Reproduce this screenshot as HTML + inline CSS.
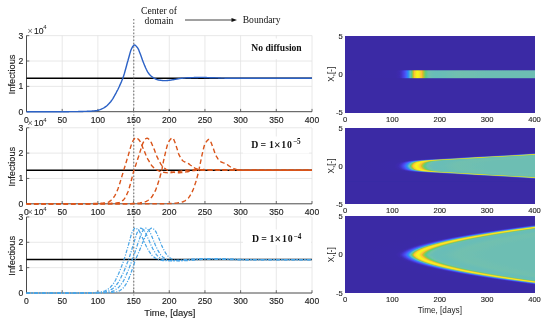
<!DOCTYPE html>
<html><head><meta charset="utf-8"><title>Figure</title>
<style>html,body{margin:0;padding:0;background:#fff}svg{display:block}</style></head>
<body><svg width="550" height="324" viewBox="0 0 550 324">
<rect width="550" height="324" fill="#fff"/>
<line x1="62.19" y1="35.5" x2="62.19" y2="111.7" stroke="#e2e2e2" stroke-width="0.8"/><line x1="97.88" y1="35.5" x2="97.88" y2="111.7" stroke="#e2e2e2" stroke-width="0.8"/><line x1="133.56" y1="35.5" x2="133.56" y2="111.7" stroke="#e2e2e2" stroke-width="0.8"/><line x1="169.25" y1="35.5" x2="169.25" y2="111.7" stroke="#e2e2e2" stroke-width="0.8"/><line x1="204.94" y1="35.5" x2="204.94" y2="111.7" stroke="#e2e2e2" stroke-width="0.8"/><line x1="240.62" y1="35.5" x2="240.62" y2="111.7" stroke="#e2e2e2" stroke-width="0.8"/><line x1="276.31" y1="35.5" x2="276.31" y2="111.7" stroke="#e2e2e2" stroke-width="0.8"/><line x1="312.00" y1="35.5" x2="312.00" y2="111.7" stroke="#e2e2e2" stroke-width="0.8"/><line x1="26.5" y1="86.35" x2="312.0" y2="86.35" stroke="#e2e2e2" stroke-width="0.8"/><line x1="26.5" y1="61.00" x2="312.0" y2="61.00" stroke="#e2e2e2" stroke-width="0.8"/><line x1="26.5" y1="35.65" x2="312.0" y2="35.65" stroke="#e2e2e2" stroke-width="0.8"/>
<line x1="62.19" y1="128.0" x2="62.19" y2="203.8" stroke="#e2e2e2" stroke-width="0.8"/><line x1="97.88" y1="128.0" x2="97.88" y2="203.8" stroke="#e2e2e2" stroke-width="0.8"/><line x1="133.56" y1="128.0" x2="133.56" y2="203.8" stroke="#e2e2e2" stroke-width="0.8"/><line x1="169.25" y1="128.0" x2="169.25" y2="203.8" stroke="#e2e2e2" stroke-width="0.8"/><line x1="204.94" y1="128.0" x2="204.94" y2="203.8" stroke="#e2e2e2" stroke-width="0.8"/><line x1="240.62" y1="128.0" x2="240.62" y2="203.8" stroke="#e2e2e2" stroke-width="0.8"/><line x1="276.31" y1="128.0" x2="276.31" y2="203.8" stroke="#e2e2e2" stroke-width="0.8"/><line x1="312.00" y1="128.0" x2="312.00" y2="203.8" stroke="#e2e2e2" stroke-width="0.8"/><line x1="26.5" y1="178.45" x2="312.0" y2="178.45" stroke="#e2e2e2" stroke-width="0.8"/><line x1="26.5" y1="153.10" x2="312.0" y2="153.10" stroke="#e2e2e2" stroke-width="0.8"/><line x1="26.5" y1="127.75" x2="312.0" y2="127.75" stroke="#e2e2e2" stroke-width="0.8"/>
<line x1="62.19" y1="217.0" x2="62.19" y2="293.0" stroke="#e2e2e2" stroke-width="0.8"/><line x1="97.88" y1="217.0" x2="97.88" y2="293.0" stroke="#e2e2e2" stroke-width="0.8"/><line x1="133.56" y1="217.0" x2="133.56" y2="293.0" stroke="#e2e2e2" stroke-width="0.8"/><line x1="169.25" y1="217.0" x2="169.25" y2="293.0" stroke="#e2e2e2" stroke-width="0.8"/><line x1="204.94" y1="217.0" x2="204.94" y2="293.0" stroke="#e2e2e2" stroke-width="0.8"/><line x1="240.62" y1="217.0" x2="240.62" y2="293.0" stroke="#e2e2e2" stroke-width="0.8"/><line x1="276.31" y1="217.0" x2="276.31" y2="293.0" stroke="#e2e2e2" stroke-width="0.8"/><line x1="312.00" y1="217.0" x2="312.00" y2="293.0" stroke="#e2e2e2" stroke-width="0.8"/><line x1="26.5" y1="267.65" x2="312.0" y2="267.65" stroke="#e2e2e2" stroke-width="0.8"/><line x1="26.5" y1="242.30" x2="312.0" y2="242.30" stroke="#e2e2e2" stroke-width="0.8"/><line x1="26.5" y1="216.95" x2="312.0" y2="216.95" stroke="#e2e2e2" stroke-width="0.8"/>
<rect x="243" y="38.5" width="66" height="20.5" fill="#fff"/>
<rect x="243" y="136.5" width="66" height="17" fill="#fff"/>
<rect x="243" y="229.5" width="68" height="15.5" fill="#fff"/>
<path d="M26.5,35.5 V111.7 H312.0" fill="none" stroke="#4a4a4a" stroke-width="1"/><line x1="26.50" y1="111.7" x2="26.50" y2="108.9" stroke="#4a4a4a" stroke-width="0.8"/><line x1="62.19" y1="111.7" x2="62.19" y2="108.9" stroke="#4a4a4a" stroke-width="0.8"/><line x1="97.88" y1="111.7" x2="97.88" y2="108.9" stroke="#4a4a4a" stroke-width="0.8"/><line x1="133.56" y1="111.7" x2="133.56" y2="108.9" stroke="#4a4a4a" stroke-width="0.8"/><line x1="169.25" y1="111.7" x2="169.25" y2="108.9" stroke="#4a4a4a" stroke-width="0.8"/><line x1="204.94" y1="111.7" x2="204.94" y2="108.9" stroke="#4a4a4a" stroke-width="0.8"/><line x1="240.62" y1="111.7" x2="240.62" y2="108.9" stroke="#4a4a4a" stroke-width="0.8"/><line x1="276.31" y1="111.7" x2="276.31" y2="108.9" stroke="#4a4a4a" stroke-width="0.8"/><line x1="312.00" y1="111.7" x2="312.00" y2="108.9" stroke="#4a4a4a" stroke-width="0.8"/><line x1="26.5" y1="111.70" x2="29.3" y2="111.70" stroke="#4a4a4a" stroke-width="0.8"/><line x1="26.5" y1="86.35" x2="29.3" y2="86.35" stroke="#4a4a4a" stroke-width="0.8"/><line x1="26.5" y1="61.00" x2="29.3" y2="61.00" stroke="#4a4a4a" stroke-width="0.8"/><line x1="26.5" y1="35.65" x2="29.3" y2="35.65" stroke="#4a4a4a" stroke-width="0.8"/>
<line x1="26.5" y1="78.24" x2="312.0" y2="78.24" stroke="#000" stroke-width="1.5"/>
<path d="M26.5,128.0 V203.8 H312.0" fill="none" stroke="#4a4a4a" stroke-width="1"/><line x1="26.50" y1="203.8" x2="26.50" y2="201.0" stroke="#4a4a4a" stroke-width="0.8"/><line x1="62.19" y1="203.8" x2="62.19" y2="201.0" stroke="#4a4a4a" stroke-width="0.8"/><line x1="97.88" y1="203.8" x2="97.88" y2="201.0" stroke="#4a4a4a" stroke-width="0.8"/><line x1="133.56" y1="203.8" x2="133.56" y2="201.0" stroke="#4a4a4a" stroke-width="0.8"/><line x1="169.25" y1="203.8" x2="169.25" y2="201.0" stroke="#4a4a4a" stroke-width="0.8"/><line x1="204.94" y1="203.8" x2="204.94" y2="201.0" stroke="#4a4a4a" stroke-width="0.8"/><line x1="240.62" y1="203.8" x2="240.62" y2="201.0" stroke="#4a4a4a" stroke-width="0.8"/><line x1="276.31" y1="203.8" x2="276.31" y2="201.0" stroke="#4a4a4a" stroke-width="0.8"/><line x1="312.00" y1="203.8" x2="312.00" y2="201.0" stroke="#4a4a4a" stroke-width="0.8"/><line x1="26.5" y1="203.80" x2="29.3" y2="203.80" stroke="#4a4a4a" stroke-width="0.8"/><line x1="26.5" y1="178.45" x2="29.3" y2="178.45" stroke="#4a4a4a" stroke-width="0.8"/><line x1="26.5" y1="153.10" x2="29.3" y2="153.10" stroke="#4a4a4a" stroke-width="0.8"/><line x1="26.5" y1="127.75" x2="29.3" y2="127.75" stroke="#4a4a4a" stroke-width="0.8"/>
<line x1="26.5" y1="170.34" x2="312.0" y2="170.34" stroke="#000" stroke-width="1.5"/>
<path d="M26.5,217.0 V293.0 H312.0" fill="none" stroke="#4a4a4a" stroke-width="1"/><line x1="26.50" y1="293.0" x2="26.50" y2="290.2" stroke="#4a4a4a" stroke-width="0.8"/><line x1="62.19" y1="293.0" x2="62.19" y2="290.2" stroke="#4a4a4a" stroke-width="0.8"/><line x1="97.88" y1="293.0" x2="97.88" y2="290.2" stroke="#4a4a4a" stroke-width="0.8"/><line x1="133.56" y1="293.0" x2="133.56" y2="290.2" stroke="#4a4a4a" stroke-width="0.8"/><line x1="169.25" y1="293.0" x2="169.25" y2="290.2" stroke="#4a4a4a" stroke-width="0.8"/><line x1="204.94" y1="293.0" x2="204.94" y2="290.2" stroke="#4a4a4a" stroke-width="0.8"/><line x1="240.62" y1="293.0" x2="240.62" y2="290.2" stroke="#4a4a4a" stroke-width="0.8"/><line x1="276.31" y1="293.0" x2="276.31" y2="290.2" stroke="#4a4a4a" stroke-width="0.8"/><line x1="312.00" y1="293.0" x2="312.00" y2="290.2" stroke="#4a4a4a" stroke-width="0.8"/><line x1="26.5" y1="293.00" x2="29.3" y2="293.00" stroke="#4a4a4a" stroke-width="0.8"/><line x1="26.5" y1="267.65" x2="29.3" y2="267.65" stroke="#4a4a4a" stroke-width="0.8"/><line x1="26.5" y1="242.30" x2="29.3" y2="242.30" stroke="#4a4a4a" stroke-width="0.8"/><line x1="26.5" y1="216.95" x2="29.3" y2="216.95" stroke="#4a4a4a" stroke-width="0.8"/>
<line x1="26.5" y1="259.54" x2="312.0" y2="259.54" stroke="#000" stroke-width="1.5"/>
<line x1="133.76" y1="19" x2="133.76" y2="295.5" stroke="#787878" stroke-width="1.15" stroke-dasharray="1.6 1.8"/>
<path d="M26.5,111.7 L27.2,111.7 L27.9,111.7 L28.6,111.7 L29.4,111.7 L30.1,111.7 L30.8,111.7 L31.5,111.7 L32.2,111.7 L32.9,111.7 L33.6,111.7 L34.4,111.7 L35.1,111.7 L35.8,111.7 L36.5,111.7 L37.2,111.7 L37.9,111.7 L38.6,111.7 L39.3,111.7 L40.1,111.7 L40.8,111.7 L41.5,111.7 L42.2,111.7 L42.9,111.7 L43.6,111.7 L44.3,111.7 L45.1,111.7 L45.8,111.7 L46.5,111.7 L47.2,111.7 L47.9,111.7 L48.6,111.7 L49.3,111.7 L50.1,111.7 L50.8,111.7 L51.5,111.7 L52.2,111.7 L52.9,111.7 L53.6,111.7 L54.3,111.7 L55.0,111.7 L55.8,111.7 L56.5,111.7 L57.2,111.7 L57.9,111.7 L58.6,111.7 L59.3,111.7 L60.0,111.7 L60.8,111.7 L61.5,111.7 L62.2,111.7 L62.9,111.7 L63.6,111.7 L64.3,111.7 L65.0,111.7 L65.8,111.7 L66.5,111.7 L67.2,111.7 L67.9,111.7 L68.6,111.7 L69.3,111.6 L70.0,111.6 L70.8,111.6 L71.5,111.6 L72.2,111.6 L72.9,111.6 L73.6,111.6 L74.3,111.6 L75.0,111.6 L75.7,111.6 L76.5,111.6 L77.2,111.6 L77.9,111.6 L78.6,111.5 L79.3,111.5 L80.0,111.5 L80.7,111.5 L81.5,111.5 L82.2,111.5 L82.9,111.5 L83.6,111.4 L84.3,111.4 L85.0,111.4 L85.7,111.4 L86.5,111.4 L87.2,111.3 L87.9,111.3 L88.6,111.3 L89.3,111.2 L90.0,111.2 L90.7,111.2 L91.5,111.1 L92.2,111.0 L92.9,111.0 L93.6,110.9 L94.3,110.9 L95.0,110.8 L95.7,110.7 L96.4,110.6 L97.2,110.5 L97.9,110.3 L98.6,110.2 L99.3,109.9 L100.0,109.7 L100.7,109.4 L101.4,109.1 L102.2,108.7 L102.9,108.4 L103.6,108.0 L104.3,107.6 L105.0,107.1 L105.7,106.6 L106.4,106.1 L107.2,105.5 L107.9,104.8 L108.6,104.1 L109.3,103.3 L110.0,102.5 L110.7,101.7 L111.4,100.8 L112.2,99.7 L112.9,98.6 L113.6,97.4 L114.3,96.2 L115.0,94.9 L115.7,93.6 L116.4,92.3 L117.1,90.9 L117.9,89.5 L118.6,88.0 L119.3,86.5 L120.0,84.9 L120.7,83.4 L121.4,81.8 L122.1,80.0 L122.9,78.2 L123.6,76.0 L124.3,73.7 L125.0,71.2 L125.7,68.7 L126.4,66.2 L127.1,63.5 L127.9,60.8 L128.6,58.2 L129.3,55.7 L130.0,53.1 L130.7,50.8 L131.4,49.0 L132.1,47.6 L132.8,46.4 L133.6,45.5 L134.3,45.0 L135.0,45.2 L135.7,45.6 L136.4,46.4 L137.1,47.2 L137.8,48.2 L138.6,49.6 L139.3,51.4 L140.0,53.3 L140.7,55.1 L141.4,57.0 L142.1,59.0 L142.8,61.1 L143.6,63.1 L144.3,64.8 L145.0,66.4 L145.7,68.0 L146.4,69.5 L147.1,70.9 L147.8,72.1 L148.6,73.3 L149.3,74.2 L150.0,75.0 L150.7,75.7 L151.4,76.3 L152.1,76.9 L152.8,77.4 L153.5,77.9 L154.3,78.3 L155.0,78.7 L155.7,79.0 L156.4,79.3 L157.1,79.6 L157.8,79.9 L158.5,80.0 L159.3,80.1 L160.0,80.2 L160.7,80.3 L161.4,80.4 L162.1,80.5 L162.8,80.6 L163.5,80.6 L164.3,80.6 L165.0,80.6 L165.7,80.6 L166.4,80.6 L167.1,80.5 L167.8,80.5 L168.5,80.4 L169.2,80.3 L170.0,80.2 L170.7,80.1 L171.4,80.0 L172.1,79.9 L172.8,79.8 L173.5,79.7 L174.2,79.5 L175.0,79.4 L175.7,79.3 L176.4,79.1 L177.1,79.0 L177.8,78.9 L178.5,78.7 L179.2,78.6 L180.0,78.5 L180.7,78.4 L181.4,78.3 L182.1,78.3 L182.8,78.2 L183.5,78.1 L184.2,78.1 L185.0,78.0 L185.7,77.9 L186.4,77.9 L187.1,77.8 L187.8,77.8 L188.5,77.8 L189.2,77.7 L189.9,77.7 L190.7,77.7 L191.4,77.6 L192.1,77.6 L192.8,77.6 L193.5,77.6 L194.2,77.5 L194.9,77.5 L195.7,77.5 L196.4,77.5 L197.1,77.5 L197.8,77.5 L198.5,77.4 L199.2,77.4 L199.9,77.4 L200.7,77.4 L201.4,77.4 L202.1,77.4 L202.8,77.4 L203.5,77.4 L204.2,77.5 L204.9,77.5 L205.7,77.5 L206.4,77.5 L207.1,77.6 L207.8,77.6 L208.5,77.6 L209.2,77.6 L209.9,77.7 L210.6,77.7 L211.4,77.7 L212.1,77.7 L212.8,77.8 L213.5,77.8 L214.2,77.8 L214.9,77.8 L215.6,77.9 L216.4,77.9 L217.1,77.9 L217.8,77.9 L218.5,78.0 L219.2,78.0 L219.9,78.0 L220.6,78.0 L221.4,78.1 L222.1,78.1 L222.8,78.1 L223.5,78.1 L224.2,78.1 L224.9,78.2 L225.6,78.2 L226.3,78.2 L227.1,78.2 L227.8,78.2 L228.5,78.2 L229.2,78.2 L229.9,78.2 L230.6,78.2 L231.3,78.2 L232.1,78.2 L232.8,78.2 L233.5,78.2 L234.2,78.2 L234.9,78.2 L235.6,78.2 L236.3,78.2 L237.1,78.2 L237.8,78.2 L238.5,78.2 L239.2,78.2 L239.9,78.2 L240.6,78.2 L241.3,78.2 L242.1,78.2 L242.8,78.2 L243.5,78.2 L244.2,78.2 L244.9,78.2 L245.6,78.2 L246.3,78.2 L247.0,78.2 L247.8,78.2 L248.5,78.2 L249.2,78.2 L249.9,78.2 L250.6,78.2 L251.3,78.2 L252.0,78.2 L252.8,78.2 L253.5,78.2 L254.2,78.2 L254.9,78.2 L255.6,78.2 L256.3,78.2 L257.0,78.2 L257.8,78.2 L258.5,78.2 L259.2,78.2 L259.9,78.2 L260.6,78.2 L261.3,78.2 L262.0,78.2 L262.8,78.2 L263.5,78.2 L264.2,78.2 L264.9,78.2 L265.6,78.2 L266.3,78.2 L267.0,78.2 L267.7,78.2 L268.5,78.2 L269.2,78.2 L269.9,78.2 L270.6,78.2 L271.3,78.2 L272.0,78.2 L272.7,78.2 L273.5,78.2 L274.2,78.2 L274.9,78.2 L275.6,78.2 L276.3,78.2 L277.0,78.2 L277.7,78.2 L278.5,78.2 L279.2,78.2 L279.9,78.2 L280.6,78.2 L281.3,78.2 L282.0,78.2 L282.7,78.2 L283.4,78.2 L284.2,78.2 L284.9,78.2 L285.6,78.2 L286.3,78.2 L287.0,78.2 L287.7,78.2 L288.4,78.2 L289.2,78.2 L289.9,78.2 L290.6,78.2 L291.3,78.2 L292.0,78.2 L292.7,78.2 L293.4,78.2 L294.2,78.2 L294.9,78.2 L295.6,78.2 L296.3,78.2 L297.0,78.2 L297.7,78.2 L298.4,78.2 L299.2,78.2 L299.9,78.2 L300.6,78.2 L301.3,78.2 L302.0,78.2 L302.7,78.2 L303.4,78.2 L304.1,78.2 L304.9,78.2 L305.6,78.2 L306.3,78.2 L307.0,78.2 L307.7,78.2 L308.4,78.2 L309.1,78.2 L309.9,78.2 L310.6,78.2 L311.3,78.2 L312.0,78.2" fill="none" stroke="#2c62c6" stroke-width="1.4" stroke-linejoin="round"/>
<path d="M26.5,203.8 L27.2,203.8 L27.9,203.8 L28.6,203.8 L29.4,203.8 L30.1,203.8 L30.8,203.8 L31.5,203.8 L32.2,203.8 L32.9,203.8 L33.6,203.8 L34.4,203.8 L35.1,203.8 L35.8,203.8 L36.5,203.8 L37.2,203.8 L37.9,203.8 L38.6,203.8 L39.3,203.8 L40.1,203.8 L40.8,203.8 L41.5,203.8 L42.2,203.8 L42.9,203.8 L43.6,203.8 L44.3,203.8 L45.1,203.8 L45.8,203.8 L46.5,203.8 L47.2,203.8 L47.9,203.8 L48.6,203.8 L49.3,203.8 L50.1,203.8 L50.8,203.8 L51.5,203.8 L52.2,203.8 L52.9,203.8 L53.6,203.8 L54.3,203.8 L55.0,203.8 L55.8,203.8 L56.5,203.8 L57.2,203.8 L57.9,203.8 L58.6,203.8 L59.3,203.8 L60.0,203.8 L60.8,203.8 L61.5,203.8 L62.2,203.8 L62.9,203.8 L63.6,203.8 L64.3,203.8 L65.0,203.8 L65.8,203.8 L66.5,203.8 L67.2,203.8 L67.9,203.8 L68.6,203.8 L69.3,203.8 L70.0,203.8 L70.8,203.8 L71.5,203.8 L72.2,203.8 L72.9,203.8 L73.6,203.8 L74.3,203.8 L75.0,203.8 L75.7,203.8 L76.5,203.8 L77.2,203.8 L77.9,203.8 L78.6,203.8 L79.3,203.7 L80.0,203.7 L80.7,203.7 L81.5,203.7 L82.2,203.7 L82.9,203.7 L83.6,203.7 L84.3,203.7 L85.0,203.7 L85.7,203.7 L86.5,203.7 L87.2,203.7 L87.9,203.7 L88.6,203.6 L89.3,203.6 L90.0,203.6 L90.7,203.6 L91.5,203.6 L92.2,203.6 L92.9,203.6 L93.6,203.5 L94.3,203.5 L95.0,203.5 L95.7,203.5 L96.4,203.5 L97.2,203.4 L97.9,203.4 L98.6,203.4 L99.3,203.3 L100.0,203.3 L100.7,203.3 L101.4,203.2 L102.2,203.1 L102.9,203.1 L103.6,203.0 L104.3,203.0 L105.0,202.9 L105.7,202.8 L106.4,202.7 L107.2,202.6 L107.9,202.4 L108.6,202.1 L109.3,201.6 L110.0,201.1 L110.7,200.6 L111.4,200.0 L112.2,199.3 L112.9,198.5 L113.6,197.6 L114.3,196.5 L115.0,195.3 L115.7,194.0 L116.4,192.6 L117.1,190.9 L117.9,189.0 L118.6,187.0 L119.3,184.9 L120.0,182.7 L120.7,180.4 L121.4,178.0 L122.1,175.6 L122.9,173.0 L123.6,170.3 L124.3,168.3 L125.0,166.1 L125.7,163.8 L126.4,161.5 L127.1,159.1 L127.9,156.7 L128.6,154.1 L129.3,151.7 L130.0,149.3 L130.7,146.9 L131.4,144.6 L132.1,142.6 L132.8,141.1 L133.6,139.9 L134.3,138.8 L135.0,138.0 L135.7,137.6 L136.4,137.8 L137.1,138.2 L137.8,138.8 L138.6,139.5 L139.3,140.3 L140.0,141.3 L140.7,142.7 L141.4,144.3 L142.1,146.0 L142.8,147.6 L143.6,149.2 L144.3,151.0 L145.0,152.8 L145.7,154.6 L146.4,156.2 L147.1,157.7 L147.8,159.1 L148.6,160.4 L149.3,161.7 L150.0,163.0 L150.7,164.1 L151.4,165.1 L152.1,166.0 L152.8,166.7 L153.5,167.4 L154.3,168.0 L155.0,168.5 L155.7,169.0 L156.4,169.5 L157.1,169.9 L157.8,170.3 L158.5,170.6 L159.3,171.0 L160.0,171.4 L160.7,171.6 L161.4,171.9 L162.1,172.1 L162.8,172.2 L163.5,172.3 L164.3,172.4 L165.0,172.5 L165.7,172.6 L166.4,172.6 L167.1,172.7 L167.8,172.7 L168.5,172.7 L169.2,172.7 L170.0,172.7 L170.7,172.7 L171.4,172.6 L172.1,172.5 L172.8,172.4 L173.5,172.3 L174.2,172.2 L175.0,172.1 L175.7,172.0 L176.4,171.9 L177.1,171.8 L177.8,171.7 L178.5,171.5 L179.2,171.4 L180.0,171.3 L180.7,171.1 L181.4,171.0 L182.1,170.9 L182.8,170.8 L183.5,170.7 L184.2,170.6 L185.0,170.5 L185.7,170.4 L186.4,170.3 L187.1,170.2 L187.8,170.2 L188.5,170.1 L189.2,170.1 L189.9,170.0 L190.7,170.0 L191.4,169.9 L192.1,169.9 L192.8,169.8 L193.5,169.8 L194.2,169.8 L194.9,169.7 L195.7,169.7 L196.4,169.7 L197.1,169.7 L197.8,169.7 L198.5,169.6 L199.2,169.6 L199.9,169.6 L200.7,169.6 L201.4,169.6 L202.1,169.6 L202.8,169.6 L203.5,169.5 L204.2,169.5 L204.9,169.5 L205.7,169.5 L206.4,169.5 L207.1,169.6 L207.8,169.6 L208.5,169.6 L209.2,169.6 L209.9,169.6 L210.6,169.7 L211.4,169.7 L212.1,169.7 L212.8,169.7 L213.5,169.8 L214.2,169.8 L214.9,169.8 L215.6,169.8 L216.4,169.9 L217.1,169.9 L217.8,169.9 L218.5,169.9 L219.2,170.0 L219.9,170.0 L220.6,170.0 L221.4,170.0 L222.1,170.1 L222.8,170.1 L223.5,170.1 L224.2,170.1 L224.9,170.2 L225.6,170.2 L226.3,170.2 L227.1,170.2 L227.8,170.2 L228.5,170.3 L229.2,170.3 L229.9,170.3 L230.6,170.3 L231.3,170.3 L232.1,170.3 L232.8,170.3 L233.5,170.3 L234.2,170.3 L234.9,170.3 L235.6,170.3 L236.3,170.3 L237.1,170.3 L237.8,170.3 L238.5,170.3 L239.2,170.3 L239.9,170.3 L240.6,170.3 L241.3,170.3 L242.1,170.3 L242.8,170.3 L243.5,170.3 L244.2,170.3 L244.9,170.3 L245.6,170.3 L246.3,170.3 L247.0,170.3 L247.8,170.3 L248.5,170.3 L249.2,170.3 L249.9,170.3 L250.6,170.3 L251.3,170.3 L252.0,170.3 L252.8,170.3 L253.5,170.3 L254.2,170.3 L254.9,170.3 L255.6,170.3 L256.3,170.3 L257.0,170.3 L257.8,170.3 L258.5,170.3 L259.2,170.3 L259.9,170.3 L260.6,170.3 L261.3,170.3 L262.0,170.3 L262.8,170.3 L263.5,170.3 L264.2,170.3 L264.9,170.3 L265.6,170.3 L266.3,170.3 L267.0,170.3 L267.7,170.3 L268.5,170.3 L269.2,170.3 L269.9,170.3 L270.6,170.3 L271.3,170.3 L272.0,170.3 L272.7,170.3 L273.5,170.3 L274.2,170.3 L274.9,170.3 L275.6,170.3 L276.3,170.3 L277.0,170.3 L277.7,170.3 L278.5,170.3 L279.2,170.3 L279.9,170.3 L280.6,170.3 L281.3,170.3 L282.0,170.3 L282.7,170.3 L283.4,170.3 L284.2,170.3 L284.9,170.3 L285.6,170.3 L286.3,170.3 L287.0,170.3 L287.7,170.3 L288.4,170.3 L289.2,170.3 L289.9,170.3 L290.6,170.3 L291.3,170.3 L292.0,170.3 L292.7,170.3 L293.4,170.3 L294.2,170.3 L294.9,170.3 L295.6,170.3 L296.3,170.3 L297.0,170.3 L297.7,170.3 L298.4,170.3 L299.2,170.3 L299.9,170.3 L300.6,170.3 L301.3,170.3 L302.0,170.3 L302.7,170.3 L303.4,170.3 L304.1,170.3 L304.9,170.3 L305.6,170.3 L306.3,170.3 L307.0,170.3 L307.7,170.3 L308.4,170.3 L309.1,170.3 L309.9,170.3 L310.6,170.3 L311.3,170.3 L312.0,170.3" fill="none" stroke="#d9541a" stroke-width="1.4" stroke-dasharray="4.6 2.8"/>
<path d="M26.5,203.8 L27.2,203.8 L27.9,203.8 L28.6,203.8 L29.4,203.8 L30.1,203.8 L30.8,203.8 L31.5,203.8 L32.2,203.8 L32.9,203.8 L33.6,203.8 L34.4,203.8 L35.1,203.8 L35.8,203.8 L36.5,203.8 L37.2,203.8 L37.9,203.8 L38.6,203.8 L39.3,203.8 L40.1,203.8 L40.8,203.8 L41.5,203.8 L42.2,203.8 L42.9,203.8 L43.6,203.8 L44.3,203.8 L45.1,203.8 L45.8,203.8 L46.5,203.8 L47.2,203.8 L47.9,203.8 L48.6,203.8 L49.3,203.8 L50.1,203.8 L50.8,203.8 L51.5,203.8 L52.2,203.8 L52.9,203.8 L53.6,203.8 L54.3,203.8 L55.0,203.8 L55.8,203.8 L56.5,203.8 L57.2,203.8 L57.9,203.8 L58.6,203.8 L59.3,203.8 L60.0,203.8 L60.8,203.8 L61.5,203.8 L62.2,203.8 L62.9,203.8 L63.6,203.8 L64.3,203.8 L65.0,203.8 L65.8,203.8 L66.5,203.8 L67.2,203.8 L67.9,203.8 L68.6,203.8 L69.3,203.8 L70.0,203.8 L70.8,203.8 L71.5,203.8 L72.2,203.8 L72.9,203.8 L73.6,203.8 L74.3,203.8 L75.0,203.8 L75.7,203.8 L76.5,203.8 L77.2,203.8 L77.9,203.8 L78.6,203.8 L79.3,203.8 L80.0,203.8 L80.7,203.8 L81.5,203.8 L82.2,203.8 L82.9,203.8 L83.6,203.8 L84.3,203.8 L85.0,203.8 L85.7,203.8 L86.5,203.8 L87.2,203.8 L87.9,203.8 L88.6,203.8 L89.3,203.8 L90.0,203.8 L90.7,203.8 L91.5,203.8 L92.2,203.7 L92.9,203.7 L93.6,203.7 L94.3,203.7 L95.0,203.7 L95.7,203.7 L96.4,203.7 L97.2,203.7 L97.9,203.7 L98.6,203.7 L99.3,203.7 L100.0,203.7 L100.7,203.7 L101.4,203.6 L102.2,203.6 L102.9,203.6 L103.6,203.6 L104.3,203.6 L105.0,203.6 L105.7,203.6 L106.4,203.5 L107.2,203.5 L107.9,203.5 L108.6,203.5 L109.3,203.4 L110.0,203.4 L110.7,203.4 L111.4,203.3 L112.2,203.3 L112.9,203.3 L113.6,203.2 L114.3,203.2 L115.0,203.1 L115.7,203.1 L116.4,203.0 L117.1,202.9 L117.9,202.8 L118.6,202.7 L119.3,202.6 L120.0,202.5 L120.7,202.1 L121.4,201.7 L122.1,201.1 L122.9,200.4 L123.6,199.7 L124.3,198.9 L125.0,197.9 L125.7,196.6 L126.4,195.3 L127.1,193.7 L127.9,192.0 L128.6,190.0 L129.3,187.7 L130.0,185.3 L130.7,182.9 L131.4,180.2 L132.1,177.4 L132.8,174.6 L133.6,171.5 L134.3,169.2 L135.0,167.3 L135.7,165.2 L136.4,163.1 L137.1,161.0 L137.8,158.8 L138.6,156.5 L139.3,154.1 L140.0,151.9 L140.7,149.7 L141.4,147.5 L142.1,145.3 L142.8,143.4 L143.6,141.9 L144.3,140.8 L145.0,139.7 L145.7,138.8 L146.4,138.3 L147.1,138.2 L147.8,138.4 L148.6,139.0 L149.3,139.7 L150.0,140.5 L150.7,141.5 L151.4,142.8 L152.1,144.5 L152.8,146.2 L153.5,147.9 L154.3,149.6 L155.0,151.5 L155.7,153.4 L156.4,155.2 L157.1,156.9 L157.8,158.3 L158.5,159.8 L159.3,161.2 L160.0,162.5 L160.7,163.8 L161.4,164.9 L162.1,165.8 L162.8,166.6 L163.5,167.3 L164.3,168.0 L165.0,168.5 L165.7,169.1 L166.4,169.5 L167.1,170.0 L167.8,170.3 L168.5,170.7 L169.2,171.1 L170.0,171.4 L170.7,171.7 L171.4,171.9 L172.1,172.1 L172.8,172.2 L173.5,172.3 L174.2,172.4 L175.0,172.5 L175.7,172.6 L176.4,172.7 L177.1,172.7 L177.8,172.7 L178.5,172.7 L179.2,172.7 L180.0,172.7 L180.7,172.6 L181.4,172.6 L182.1,172.5 L182.8,172.4 L183.5,172.3 L184.2,172.2 L185.0,172.1 L185.7,172.0 L186.4,171.9 L187.1,171.8 L187.8,171.7 L188.5,171.5 L189.2,171.4 L189.9,171.2 L190.7,171.1 L191.4,171.0 L192.1,170.9 L192.8,170.8 L193.5,170.6 L194.2,170.5 L194.9,170.5 L195.7,170.4 L196.4,170.3 L197.1,170.2 L197.8,170.2 L198.5,170.1 L199.2,170.1 L199.9,170.0 L200.7,170.0 L201.4,169.9 L202.1,169.9 L202.8,169.8 L203.5,169.8 L204.2,169.8 L204.9,169.7 L205.7,169.7 L206.4,169.7 L207.1,169.7 L207.8,169.7 L208.5,169.6 L209.2,169.6 L209.9,169.6 L210.6,169.6 L211.4,169.6 L212.1,169.6 L212.8,169.6 L213.5,169.6 L214.2,169.6 L214.9,169.6 L215.6,169.6 L216.4,169.6 L217.1,169.6 L217.8,169.6 L218.5,169.6 L219.2,169.6 L219.9,169.6 L220.6,169.7 L221.4,169.7 L222.1,169.7 L222.8,169.7 L223.5,169.8 L224.2,169.8 L224.9,169.8 L225.6,169.8 L226.3,169.9 L227.1,169.9 L227.8,169.9 L228.5,169.9 L229.2,170.0 L229.9,170.0 L230.6,170.0 L231.3,170.0 L232.1,170.1 L232.8,170.1 L233.5,170.1 L234.2,170.1 L234.9,170.2 L235.6,170.2 L236.3,170.2 L237.1,170.2 L237.8,170.2 L238.5,170.3 L239.2,170.3 L239.9,170.3 L240.6,170.3 L241.3,170.3 L242.1,170.3 L242.8,170.3 L243.5,170.3 L244.2,170.3 L244.9,170.3 L245.6,170.3 L246.3,170.3 L247.0,170.3 L247.8,170.3 L248.5,170.3 L249.2,170.3 L249.9,170.3 L250.6,170.3 L251.3,170.3 L252.0,170.3 L252.8,170.3 L253.5,170.3 L254.2,170.3 L254.9,170.3 L255.6,170.3 L256.3,170.3 L257.0,170.3 L257.8,170.3 L258.5,170.3 L259.2,170.3 L259.9,170.3 L260.6,170.3 L261.3,170.3 L262.0,170.3 L262.8,170.3 L263.5,170.3 L264.2,170.3 L264.9,170.3 L265.6,170.3 L266.3,170.3 L267.0,170.3 L267.7,170.3 L268.5,170.3 L269.2,170.3 L269.9,170.3 L270.6,170.3 L271.3,170.3 L272.0,170.3 L272.7,170.3 L273.5,170.3 L274.2,170.3 L274.9,170.3 L275.6,170.3 L276.3,170.3 L277.0,170.3 L277.7,170.3 L278.5,170.3 L279.2,170.3 L279.9,170.3 L280.6,170.3 L281.3,170.3 L282.0,170.3 L282.7,170.3 L283.4,170.3 L284.2,170.3 L284.9,170.3 L285.6,170.3 L286.3,170.3 L287.0,170.3 L287.7,170.3 L288.4,170.3 L289.2,170.3 L289.9,170.3 L290.6,170.3 L291.3,170.3 L292.0,170.3 L292.7,170.3 L293.4,170.3 L294.2,170.3 L294.9,170.3 L295.6,170.3 L296.3,170.3 L297.0,170.3 L297.7,170.3 L298.4,170.3 L299.2,170.3 L299.9,170.3 L300.6,170.3 L301.3,170.3 L302.0,170.3 L302.7,170.3 L303.4,170.3 L304.1,170.3 L304.9,170.3 L305.6,170.3 L306.3,170.3 L307.0,170.3 L307.7,170.3 L308.4,170.3 L309.1,170.3 L309.9,170.3 L310.6,170.3 L311.3,170.3 L312.0,170.3" fill="none" stroke="#d9541a" stroke-width="1.4" stroke-dasharray="4.6 2.8"/>
<path d="M26.5,203.8 L27.2,203.8 L27.9,203.8 L28.6,203.8 L29.4,203.8 L30.1,203.8 L30.8,203.8 L31.5,203.8 L32.2,203.8 L32.9,203.8 L33.6,203.8 L34.4,203.8 L35.1,203.8 L35.8,203.8 L36.5,203.8 L37.2,203.8 L37.9,203.8 L38.6,203.8 L39.3,203.8 L40.1,203.8 L40.8,203.8 L41.5,203.8 L42.2,203.8 L42.9,203.8 L43.6,203.8 L44.3,203.8 L45.1,203.8 L45.8,203.8 L46.5,203.8 L47.2,203.8 L47.9,203.8 L48.6,203.8 L49.3,203.8 L50.1,203.8 L50.8,203.8 L51.5,203.8 L52.2,203.8 L52.9,203.8 L53.6,203.8 L54.3,203.8 L55.0,203.8 L55.8,203.8 L56.5,203.8 L57.2,203.8 L57.9,203.8 L58.6,203.8 L59.3,203.8 L60.0,203.8 L60.8,203.8 L61.5,203.8 L62.2,203.8 L62.9,203.8 L63.6,203.8 L64.3,203.8 L65.0,203.8 L65.8,203.8 L66.5,203.8 L67.2,203.8 L67.9,203.8 L68.6,203.8 L69.3,203.8 L70.0,203.8 L70.8,203.8 L71.5,203.8 L72.2,203.8 L72.9,203.8 L73.6,203.8 L74.3,203.8 L75.0,203.8 L75.7,203.8 L76.5,203.8 L77.2,203.8 L77.9,203.8 L78.6,203.8 L79.3,203.8 L80.0,203.8 L80.7,203.8 L81.5,203.8 L82.2,203.8 L82.9,203.8 L83.6,203.8 L84.3,203.8 L85.0,203.8 L85.7,203.8 L86.5,203.8 L87.2,203.8 L87.9,203.8 L88.6,203.8 L89.3,203.8 L90.0,203.8 L90.7,203.8 L91.5,203.8 L92.2,203.8 L92.9,203.8 L93.6,203.8 L94.3,203.8 L95.0,203.8 L95.7,203.7 L96.4,203.7 L97.2,203.7 L97.9,203.7 L98.6,203.7 L99.3,203.7 L100.0,203.7 L100.7,203.7 L101.4,203.7 L102.2,203.7 L102.9,203.7 L103.6,203.7 L104.3,203.7 L105.0,203.7 L105.7,203.7 L106.4,203.7 L107.2,203.7 L107.9,203.7 L108.6,203.7 L109.3,203.7 L110.0,203.7 L110.7,203.7 L111.4,203.7 L112.2,203.7 L112.9,203.7 L113.6,203.7 L114.3,203.7 L115.0,203.7 L115.7,203.7 L116.4,203.7 L117.1,203.7 L117.9,203.7 L118.6,203.7 L119.3,203.7 L120.0,203.7 L120.7,203.7 L121.4,203.7 L122.1,203.7 L122.9,203.7 L123.6,203.7 L124.3,203.7 L125.0,203.7 L125.7,203.7 L126.4,203.7 L127.1,203.7 L127.9,203.7 L128.6,203.6 L129.3,203.6 L130.0,203.6 L130.7,203.6 L131.4,203.6 L132.1,203.5 L132.8,203.5 L133.6,203.5 L134.3,203.4 L135.0,203.4 L135.7,203.4 L136.4,203.3 L137.1,203.3 L137.8,203.2 L138.6,203.2 L139.3,203.1 L140.0,203.0 L140.7,202.8 L141.4,202.7 L142.1,202.5 L142.8,202.4 L143.6,202.2 L144.3,202.1 L145.0,201.9 L145.7,201.6 L146.4,201.3 L147.1,200.9 L147.8,200.5 L148.6,200.0 L149.3,199.5 L150.0,198.9 L150.7,198.3 L151.4,197.4 L152.1,196.5 L152.8,195.3 L153.5,194.1 L154.3,192.8 L155.0,191.4 L155.7,189.9 L156.4,188.1 L157.1,186.2 L157.8,184.0 L158.5,181.8 L159.3,179.5 L160.0,177.0 L160.7,174.3 L161.4,171.5 L162.1,168.4 L162.8,164.8 L163.5,161.2 L164.3,157.7 L165.0,154.6 L165.7,151.6 L166.4,148.7 L167.1,146.0 L167.8,143.7 L168.5,142.1 L169.2,141.0 L170.0,139.9 L170.7,139.1 L171.4,138.4 L172.1,138.0 L172.8,137.9 L173.5,138.8 L174.2,140.4 L175.0,142.4 L175.7,144.7 L176.4,146.8 L177.1,148.9 L177.8,151.2 L178.5,153.4 L179.2,155.2 L180.0,156.6 L180.7,157.9 L181.4,159.0 L182.1,160.0 L182.8,160.7 L183.5,161.3 L184.2,161.7 L185.0,162.0 L185.7,162.3 L186.4,162.6 L187.1,162.9 L187.8,163.2 L188.5,163.6 L189.2,164.1 L189.9,164.7 L190.7,165.3 L191.4,165.8 L192.1,166.3 L192.8,166.8 L193.5,167.2 L194.2,167.7 L194.9,168.1 L195.7,168.4 L196.4,168.8 L197.1,169.0 L197.8,169.3 L198.5,169.6 L199.2,169.8 L199.9,170.0 L200.7,170.1 L201.4,170.1 L202.1,170.2 L202.8,170.2 L203.5,170.3 L204.2,170.3 L204.9,170.3 L205.7,170.3 L206.4,170.3 L207.1,170.3 L207.8,170.3 L208.5,170.3 L209.2,170.3 L209.9,170.3 L210.6,170.3 L211.4,170.3 L212.1,170.3 L212.8,170.3 L213.5,170.3 L214.2,170.3 L214.9,170.3 L215.6,170.3 L216.4,170.3 L217.1,170.3 L217.8,170.3 L218.5,170.3 L219.2,170.3 L219.9,170.3 L220.6,170.3 L221.4,170.3 L222.1,170.3 L222.8,170.3 L223.5,170.3 L224.2,170.3 L224.9,170.3 L225.6,170.3 L226.3,170.3 L227.1,170.3 L227.8,170.3 L228.5,170.3 L229.2,170.3 L229.9,170.3 L230.6,170.3 L231.3,170.3 L232.1,170.3 L232.8,170.3 L233.5,170.3 L234.2,170.3 L234.9,170.3 L235.6,170.3 L236.3,170.3 L237.1,170.3 L237.8,170.3 L238.5,170.3 L239.2,170.3 L239.9,170.3 L240.6,170.3 L241.3,170.3 L242.1,170.3 L242.8,170.3 L243.5,170.3 L244.2,170.3 L244.9,170.3 L245.6,170.3 L246.3,170.3 L247.0,170.3 L247.8,170.3 L248.5,170.3 L249.2,170.3 L249.9,170.3 L250.6,170.3 L251.3,170.3 L252.0,170.3 L252.8,170.3 L253.5,170.3 L254.2,170.3 L254.9,170.3 L255.6,170.3 L256.3,170.3 L257.0,170.3 L257.8,170.3 L258.5,170.3 L259.2,170.3 L259.9,170.3 L260.6,170.3 L261.3,170.3 L262.0,170.3 L262.8,170.3 L263.5,170.3 L264.2,170.3 L264.9,170.3 L265.6,170.3 L266.3,170.3 L267.0,170.3 L267.7,170.3 L268.5,170.3 L269.2,170.3 L269.9,170.3 L270.6,170.3 L271.3,170.3 L272.0,170.3 L272.7,170.3 L273.5,170.3 L274.2,170.3 L274.9,170.3 L275.6,170.3 L276.3,170.3 L277.0,170.3 L277.7,170.3 L278.5,170.3 L279.2,170.3 L279.9,170.3 L280.6,170.3 L281.3,170.3 L282.0,170.3 L282.7,170.3 L283.4,170.3 L284.2,170.3 L284.9,170.3 L285.6,170.3 L286.3,170.3 L287.0,170.3 L287.7,170.3 L288.4,170.3 L289.2,170.3 L289.9,170.3 L290.6,170.3 L291.3,170.3 L292.0,170.3 L292.7,170.3 L293.4,170.3 L294.2,170.3 L294.9,170.3 L295.6,170.3 L296.3,170.3 L297.0,170.3 L297.7,170.3 L298.4,170.3 L299.2,170.3 L299.9,170.3 L300.6,170.3 L301.3,170.3 L302.0,170.3 L302.7,170.3 L303.4,170.3 L304.1,170.3 L304.9,170.3 L305.6,170.3 L306.3,170.3 L307.0,170.3 L307.7,170.3 L308.4,170.3 L309.1,170.3 L309.9,170.3 L310.6,170.3 L311.3,170.3 L312.0,170.3" fill="none" stroke="#d9541a" stroke-width="1.4" stroke-dasharray="4.6 2.8"/>
<path d="M26.5,203.8 L27.2,203.8 L27.9,203.8 L28.6,203.8 L29.4,203.8 L30.1,203.8 L30.8,203.8 L31.5,203.8 L32.2,203.8 L32.9,203.8 L33.6,203.8 L34.4,203.8 L35.1,203.8 L35.8,203.8 L36.5,203.8 L37.2,203.8 L37.9,203.8 L38.6,203.8 L39.3,203.8 L40.1,203.8 L40.8,203.8 L41.5,203.8 L42.2,203.8 L42.9,203.8 L43.6,203.8 L44.3,203.8 L45.1,203.8 L45.8,203.8 L46.5,203.8 L47.2,203.8 L47.9,203.8 L48.6,203.8 L49.3,203.8 L50.1,203.8 L50.8,203.8 L51.5,203.8 L52.2,203.8 L52.9,203.8 L53.6,203.8 L54.3,203.8 L55.0,203.8 L55.8,203.8 L56.5,203.8 L57.2,203.8 L57.9,203.8 L58.6,203.8 L59.3,203.8 L60.0,203.8 L60.8,203.8 L61.5,203.8 L62.2,203.8 L62.9,203.8 L63.6,203.8 L64.3,203.8 L65.0,203.8 L65.8,203.8 L66.5,203.8 L67.2,203.8 L67.9,203.8 L68.6,203.8 L69.3,203.8 L70.0,203.8 L70.8,203.8 L71.5,203.8 L72.2,203.8 L72.9,203.8 L73.6,203.8 L74.3,203.8 L75.0,203.8 L75.7,203.8 L76.5,203.8 L77.2,203.8 L77.9,203.8 L78.6,203.8 L79.3,203.8 L80.0,203.8 L80.7,203.8 L81.5,203.8 L82.2,203.8 L82.9,203.8 L83.6,203.8 L84.3,203.8 L85.0,203.8 L85.7,203.8 L86.5,203.8 L87.2,203.8 L87.9,203.8 L88.6,203.8 L89.3,203.8 L90.0,203.8 L90.7,203.8 L91.5,203.8 L92.2,203.8 L92.9,203.8 L93.6,203.8 L94.3,203.8 L95.0,203.8 L95.7,203.8 L96.4,203.8 L97.2,203.8 L97.9,203.8 L98.6,203.8 L99.3,203.8 L100.0,203.8 L100.7,203.8 L101.4,203.8 L102.2,203.8 L102.9,203.8 L103.6,203.8 L104.3,203.8 L105.0,203.8 L105.7,203.8 L106.4,203.8 L107.2,203.8 L107.9,203.8 L108.6,203.8 L109.3,203.8 L110.0,203.8 L110.7,203.8 L111.4,203.8 L112.2,203.8 L112.9,203.8 L113.6,203.8 L114.3,203.8 L115.0,203.8 L115.7,203.8 L116.4,203.8 L117.1,203.8 L117.9,203.8 L118.6,203.8 L119.3,203.8 L120.0,203.8 L120.7,203.8 L121.4,203.8 L122.1,203.8 L122.9,203.8 L123.6,203.8 L124.3,203.8 L125.0,203.8 L125.7,203.8 L126.4,203.8 L127.1,203.8 L127.9,203.8 L128.6,203.8 L129.3,203.8 L130.0,203.8 L130.7,203.8 L131.4,203.8 L132.1,203.8 L132.8,203.8 L133.6,203.7 L134.3,203.7 L135.0,203.7 L135.7,203.7 L136.4,203.7 L137.1,203.7 L137.8,203.7 L138.6,203.7 L139.3,203.7 L140.0,203.7 L140.7,203.7 L141.4,203.7 L142.1,203.7 L142.8,203.7 L143.6,203.7 L144.3,203.7 L145.0,203.7 L145.7,203.7 L146.4,203.7 L147.1,203.7 L147.8,203.7 L148.6,203.7 L149.3,203.7 L150.0,203.7 L150.7,203.7 L151.4,203.7 L152.1,203.7 L152.8,203.7 L153.5,203.7 L154.3,203.7 L155.0,203.7 L155.7,203.7 L156.4,203.7 L157.1,203.7 L157.8,203.7 L158.5,203.7 L159.3,203.7 L160.0,203.7 L160.7,203.7 L161.4,203.7 L162.1,203.7 L162.8,203.7 L163.5,203.7 L164.3,203.7 L165.0,203.7 L165.7,203.7 L166.4,203.6 L167.1,203.6 L167.8,203.6 L168.5,203.6 L169.2,203.6 L170.0,203.5 L170.7,203.5 L171.4,203.5 L172.1,203.4 L172.8,203.4 L173.5,203.4 L174.2,203.3 L175.0,203.3 L175.7,203.2 L176.4,203.1 L177.1,203.0 L177.8,202.9 L178.5,202.8 L179.2,202.7 L180.0,202.5 L180.7,202.4 L181.4,202.2 L182.1,202.0 L182.8,201.8 L183.5,201.5 L184.2,201.2 L185.0,200.8 L185.7,200.3 L186.4,199.8 L187.1,199.2 L187.8,198.6 L188.5,197.9 L189.2,196.9 L189.9,195.8 L190.7,194.6 L191.4,193.3 L192.1,191.9 L192.8,190.4 L193.5,188.7 L194.2,186.7 L194.9,184.6 L195.7,182.3 L196.4,180.0 L197.1,177.4 L197.8,174.7 L198.5,171.8 L199.2,168.7 L199.9,165.0 L200.7,161.3 L201.4,157.7 L202.1,154.7 L202.8,151.6 L203.5,148.7 L204.2,146.0 L204.9,144.0 L205.7,142.7 L206.4,141.6 L207.1,140.7 L207.8,140.0 L208.5,139.5 L209.2,139.5 L209.9,140.1 L210.6,141.5 L211.4,143.3 L212.1,145.2 L212.8,147.2 L213.5,148.9 L214.2,150.9 L214.9,153.0 L215.6,154.9 L216.4,156.3 L217.1,157.5 L217.8,158.6 L218.5,159.6 L219.2,160.5 L219.9,161.1 L220.6,161.6 L221.4,162.0 L222.1,162.3 L222.8,162.6 L223.5,162.8 L224.2,163.1 L224.9,163.3 L225.6,163.7 L226.3,164.1 L227.1,164.5 L227.8,165.0 L228.5,165.6 L229.2,166.0 L229.9,166.5 L230.6,166.9 L231.3,167.3 L232.1,167.7 L232.8,168.0 L233.5,168.4 L234.2,168.7 L234.9,168.9 L235.6,169.2 L236.3,169.4 L237.1,169.7 L237.8,169.9 L238.5,170.0 L239.2,170.1 L239.9,170.1 L240.6,170.2 L241.3,170.2 L242.1,170.3 L242.8,170.3 L243.5,170.3 L244.2,170.3 L244.9,170.3 L245.6,170.3 L246.3,170.3 L247.0,170.3 L247.8,170.3 L248.5,170.3 L249.2,170.3 L249.9,170.3 L250.6,170.3 L251.3,170.3 L252.0,170.3 L252.8,170.3 L253.5,170.3 L254.2,170.3 L254.9,170.3 L255.6,170.3 L256.3,170.3 L257.0,170.3 L257.8,170.3 L258.5,170.3 L259.2,170.3 L259.9,170.3 L260.6,170.3 L261.3,170.3 L262.0,170.3 L262.8,170.3 L263.5,170.3 L264.2,170.3 L264.9,170.3 L265.6,170.3 L266.3,170.3 L267.0,170.3 L267.7,170.3 L268.5,170.3 L269.2,170.3 L269.9,170.3 L270.6,170.3 L271.3,170.3 L272.0,170.3 L272.7,170.3 L273.5,170.3 L274.2,170.3 L274.9,170.3 L275.6,170.3 L276.3,170.3 L277.0,170.3 L277.7,170.3 L278.5,170.3 L279.2,170.3 L279.9,170.3 L280.6,170.3 L281.3,170.3 L282.0,170.3 L282.7,170.3 L283.4,170.3 L284.2,170.3 L284.9,170.3 L285.6,170.3 L286.3,170.3 L287.0,170.3 L287.7,170.3 L288.4,170.3 L289.2,170.3 L289.9,170.3 L290.6,170.3 L291.3,170.3 L292.0,170.3 L292.7,170.3 L293.4,170.3 L294.2,170.3 L294.9,170.3 L295.6,170.3 L296.3,170.3 L297.0,170.3 L297.7,170.3 L298.4,170.3 L299.2,170.3 L299.9,170.3 L300.6,170.3 L301.3,170.3 L302.0,170.3 L302.7,170.3 L303.4,170.3 L304.1,170.3 L304.9,170.3 L305.6,170.3 L306.3,170.3 L307.0,170.3 L307.7,170.3 L308.4,170.3 L309.1,170.3 L309.9,170.3 L310.6,170.3 L311.3,170.3 L312.0,170.3" fill="none" stroke="#d9541a" stroke-width="1.4" stroke-dasharray="4.6 2.8"/>
<path d="M26.5,293.0 L27.2,293.0 L27.9,293.0 L28.6,293.0 L29.4,293.0 L30.1,293.0 L30.8,293.0 L31.5,293.0 L32.2,293.0 L32.9,293.0 L33.6,293.0 L34.4,293.0 L35.1,293.0 L35.8,293.0 L36.5,293.0 L37.2,293.0 L37.9,293.0 L38.6,293.0 L39.3,293.0 L40.1,293.0 L40.8,293.0 L41.5,293.0 L42.2,293.0 L42.9,293.0 L43.6,293.0 L44.3,293.0 L45.1,293.0 L45.8,293.0 L46.5,293.0 L47.2,293.0 L47.9,293.0 L48.6,293.0 L49.3,293.0 L50.1,293.0 L50.8,293.0 L51.5,293.0 L52.2,293.0 L52.9,293.0 L53.6,293.0 L54.3,293.0 L55.0,293.0 L55.8,293.0 L56.5,293.0 L57.2,293.0 L57.9,293.0 L58.6,293.0 L59.3,293.0 L60.0,293.0 L60.8,293.0 L61.5,293.0 L62.2,293.0 L62.9,293.0 L63.6,293.0 L64.3,293.0 L65.0,293.0 L65.8,293.0 L66.5,293.0 L67.2,293.0 L67.9,293.0 L68.6,293.0 L69.3,293.0 L70.0,293.0 L70.8,293.0 L71.5,293.0 L72.2,293.0 L72.9,293.0 L73.6,293.0 L74.3,292.9 L75.0,292.9 L75.7,292.9 L76.5,292.9 L77.2,292.9 L77.9,292.9 L78.6,292.9 L79.3,292.9 L80.0,292.9 L80.7,292.9 L81.5,292.9 L82.2,292.9 L82.9,292.9 L83.6,292.9 L84.3,292.8 L85.0,292.8 L85.7,292.8 L86.5,292.8 L87.2,292.8 L87.9,292.8 L88.6,292.7 L89.3,292.7 L90.0,292.7 L90.7,292.7 L91.5,292.7 L92.2,292.6 L92.9,292.6 L93.6,292.6 L94.3,292.5 L95.0,292.5 L95.7,292.5 L96.4,292.4 L97.2,292.4 L97.9,292.3 L98.6,292.2 L99.3,292.2 L100.0,292.1 L100.7,292.0 L101.4,291.9 L102.2,291.8 L102.9,291.7 L103.6,291.4 L104.3,291.2 L105.0,290.9 L105.7,290.5 L106.4,290.1 L107.2,289.7 L107.9,289.2 L108.6,288.7 L109.3,288.2 L110.0,287.6 L110.7,286.8 L111.4,286.0 L112.2,285.2 L112.9,284.3 L113.6,283.3 L114.3,282.2 L115.0,281.0 L115.7,279.7 L116.4,278.3 L117.1,276.8 L117.9,275.2 L118.6,273.7 L119.3,272.1 L120.0,270.4 L120.7,268.6 L121.4,266.8 L122.1,264.9 L122.9,263.0 L123.6,261.0 L124.3,258.9 L125.0,256.7 L125.7,254.4 L126.4,251.9 L127.1,249.5 L127.9,246.9 L128.6,244.3 L129.3,241.7 L130.0,239.2 L130.7,236.7 L131.4,234.3 L132.1,232.3 L132.8,231.0 L133.6,229.7 L134.3,228.7 L135.0,228.2 L135.7,228.2 L136.4,228.5 L137.1,229.0 L137.8,229.6 L138.6,230.3 L139.3,231.2 L140.0,232.4 L140.7,233.8 L141.4,235.3 L142.1,236.9 L142.8,238.4 L143.6,240.0 L144.3,241.7 L145.0,243.4 L145.7,245.0 L146.4,246.5 L147.1,247.8 L147.8,249.1 L148.6,250.4 L149.3,251.6 L150.0,252.7 L150.7,253.8 L151.4,254.7 L152.1,255.5 L152.8,256.2 L153.5,256.8 L154.3,257.3 L155.0,257.9 L155.7,258.3 L156.4,258.7 L157.1,259.1 L157.8,259.5 L158.5,259.7 L159.3,259.9 L160.0,260.0 L160.7,260.2 L161.4,260.3 L162.1,260.4 L162.8,260.5 L163.5,260.5 L164.3,260.6 L165.0,260.6 L165.7,260.7 L166.4,260.7 L167.1,260.7 L167.8,260.7 L168.5,260.7 L169.2,260.7 L170.0,260.7 L170.7,260.7 L171.4,260.7 L172.1,260.6 L172.8,260.6 L173.5,260.5 L174.2,260.5 L175.0,260.4 L175.7,260.4 L176.4,260.3 L177.1,260.3 L177.8,260.2 L178.5,260.1 L179.2,260.1 L180.0,260.0 L180.7,259.9 L181.4,259.9 L182.1,259.8 L182.8,259.8 L183.5,259.7 L184.2,259.7 L185.0,259.6 L185.7,259.6 L186.4,259.5 L187.1,259.4 L187.8,259.4 L188.5,259.3 L189.2,259.3 L189.9,259.2 L190.7,259.2 L191.4,259.1 L192.1,259.1 L192.8,259.1 L193.5,259.0 L194.2,259.0 L194.9,259.0 L195.7,258.9 L196.4,258.9 L197.1,258.9 L197.8,258.9 L198.5,258.9 L199.2,258.9 L199.9,258.8 L200.7,258.8 L201.4,258.8 L202.1,258.8 L202.8,258.8 L203.5,258.8 L204.2,258.8 L204.9,258.8 L205.7,258.8 L206.4,258.8 L207.1,258.8 L207.8,258.8 L208.5,258.8 L209.2,258.8 L209.9,258.9 L210.6,258.9 L211.4,258.9 L212.1,258.9 L212.8,259.0 L213.5,259.0 L214.2,259.0 L214.9,259.0 L215.6,259.1 L216.4,259.1 L217.1,259.1 L217.8,259.1 L218.5,259.1 L219.2,259.2 L219.9,259.2 L220.6,259.2 L221.4,259.2 L222.1,259.3 L222.8,259.3 L223.5,259.3 L224.2,259.3 L224.9,259.4 L225.6,259.4 L226.3,259.4 L227.1,259.4 L227.8,259.4 L228.5,259.5 L229.2,259.5 L229.9,259.5 L230.6,259.5 L231.3,259.5 L232.1,259.5 L232.8,259.5 L233.5,259.5 L234.2,259.5 L234.9,259.5 L235.6,259.5 L236.3,259.5 L237.1,259.5 L237.8,259.5 L238.5,259.5 L239.2,259.5 L239.9,259.5 L240.6,259.5 L241.3,259.5 L242.1,259.5 L242.8,259.5 L243.5,259.5 L244.2,259.5 L244.9,259.5 L245.6,259.5 L246.3,259.5 L247.0,259.5 L247.8,259.5 L248.5,259.5 L249.2,259.5 L249.9,259.5 L250.6,259.5 L251.3,259.5 L252.0,259.5 L252.8,259.5 L253.5,259.5 L254.2,259.5 L254.9,259.5 L255.6,259.5 L256.3,259.5 L257.0,259.5 L257.8,259.5 L258.5,259.5 L259.2,259.5 L259.9,259.5 L260.6,259.5 L261.3,259.5 L262.0,259.5 L262.8,259.5 L263.5,259.5 L264.2,259.5 L264.9,259.5 L265.6,259.5 L266.3,259.5 L267.0,259.5 L267.7,259.5 L268.5,259.5 L269.2,259.5 L269.9,259.5 L270.6,259.5 L271.3,259.5 L272.0,259.5 L272.7,259.5 L273.5,259.5 L274.2,259.5 L274.9,259.5 L275.6,259.5 L276.3,259.5 L277.0,259.5 L277.7,259.5 L278.5,259.5 L279.2,259.5 L279.9,259.5 L280.6,259.5 L281.3,259.5 L282.0,259.5 L282.7,259.5 L283.4,259.5 L284.2,259.5 L284.9,259.5 L285.6,259.5 L286.3,259.5 L287.0,259.5 L287.7,259.5 L288.4,259.5 L289.2,259.5 L289.9,259.5 L290.6,259.5 L291.3,259.5 L292.0,259.5 L292.7,259.5 L293.4,259.5 L294.2,259.5 L294.9,259.5 L295.6,259.5 L296.3,259.5 L297.0,259.5 L297.7,259.5 L298.4,259.5 L299.2,259.5 L299.9,259.5 L300.6,259.5 L301.3,259.5 L302.0,259.5 L302.7,259.5 L303.4,259.5 L304.1,259.5 L304.9,259.5 L305.6,259.5 L306.3,259.5 L307.0,259.5 L307.7,259.5 L308.4,259.5 L309.1,259.5 L309.9,259.5 L310.6,259.5 L311.3,259.5 L312.0,259.5" fill="none" stroke="#4aa5e6" stroke-width="1.25" stroke-dasharray="3.6 1.5 1.1 1.5"/>
<path d="M26.5,293.0 L27.2,293.0 L27.9,293.0 L28.6,293.0 L29.4,293.0 L30.1,293.0 L30.8,293.0 L31.5,293.0 L32.2,293.0 L32.9,293.0 L33.6,293.0 L34.4,293.0 L35.1,293.0 L35.8,293.0 L36.5,293.0 L37.2,293.0 L37.9,293.0 L38.6,293.0 L39.3,293.0 L40.1,293.0 L40.8,293.0 L41.5,293.0 L42.2,293.0 L42.9,293.0 L43.6,293.0 L44.3,293.0 L45.1,293.0 L45.8,293.0 L46.5,293.0 L47.2,293.0 L47.9,293.0 L48.6,293.0 L49.3,293.0 L50.1,293.0 L50.8,293.0 L51.5,293.0 L52.2,293.0 L52.9,293.0 L53.6,293.0 L54.3,293.0 L55.0,293.0 L55.8,293.0 L56.5,293.0 L57.2,293.0 L57.9,293.0 L58.6,293.0 L59.3,293.0 L60.0,293.0 L60.8,293.0 L61.5,293.0 L62.2,293.0 L62.9,293.0 L63.6,293.0 L64.3,293.0 L65.0,293.0 L65.8,293.0 L66.5,293.0 L67.2,293.0 L67.9,293.0 L68.6,293.0 L69.3,293.0 L70.0,293.0 L70.8,293.0 L71.5,293.0 L72.2,293.0 L72.9,293.0 L73.6,293.0 L74.3,293.0 L75.0,293.0 L75.7,293.0 L76.5,293.0 L77.2,293.0 L77.9,293.0 L78.6,292.9 L79.3,292.9 L80.0,292.9 L80.7,292.9 L81.5,292.9 L82.2,292.9 L82.9,292.9 L83.6,292.9 L84.3,292.9 L85.0,292.9 L85.7,292.9 L86.5,292.9 L87.2,292.9 L87.9,292.8 L88.6,292.8 L89.3,292.8 L90.0,292.8 L90.7,292.8 L91.5,292.8 L92.2,292.8 L92.9,292.7 L93.6,292.7 L94.3,292.7 L95.0,292.7 L95.7,292.6 L96.4,292.6 L97.2,292.6 L97.9,292.5 L98.6,292.5 L99.3,292.5 L100.0,292.4 L100.7,292.4 L101.4,292.3 L102.2,292.3 L102.9,292.2 L103.6,292.1 L104.3,292.0 L105.0,291.9 L105.7,291.8 L106.4,291.7 L107.2,291.5 L107.9,291.3 L108.6,291.0 L109.3,290.6 L110.0,290.3 L110.7,289.8 L111.4,289.4 L112.2,288.9 L112.9,288.5 L113.6,287.9 L114.3,287.3 L115.0,286.5 L115.7,285.7 L116.4,284.9 L117.1,284.0 L117.9,283.0 L118.6,282.0 L119.3,280.8 L120.0,279.5 L120.7,278.1 L121.4,276.6 L122.1,275.1 L122.9,273.6 L123.6,272.0 L124.3,270.4 L125.0,268.7 L125.7,266.9 L126.4,265.1 L127.1,263.3 L127.9,261.4 L128.6,259.3 L129.3,257.4 L130.0,255.3 L130.7,253.1 L131.4,250.8 L132.1,248.5 L132.8,246.1 L133.6,243.7 L134.3,241.4 L135.0,239.1 L135.7,236.8 L136.4,234.6 L137.1,232.7 L137.8,231.3 L138.6,230.1 L139.3,229.1 L140.0,228.4 L140.7,228.1 L141.4,228.3 L142.1,228.7 L142.8,229.3 L143.6,230.0 L144.3,230.7 L145.0,231.8 L145.7,233.1 L146.4,234.6 L147.1,236.2 L147.8,237.8 L148.6,239.4 L149.3,241.1 L150.0,242.8 L150.7,244.5 L151.4,246.1 L152.1,247.4 L152.8,248.8 L153.5,250.1 L154.3,251.3 L155.0,252.5 L155.7,253.6 L156.4,254.6 L157.1,255.4 L157.8,256.1 L158.5,256.7 L159.3,257.3 L160.0,257.8 L160.7,258.3 L161.4,258.7 L162.1,259.1 L162.8,259.5 L163.5,259.7 L164.3,259.9 L165.0,260.0 L165.7,260.2 L166.4,260.3 L167.1,260.4 L167.8,260.5 L168.5,260.5 L169.2,260.6 L170.0,260.6 L170.7,260.7 L171.4,260.7 L172.1,260.7 L172.8,260.7 L173.5,260.7 L174.2,260.7 L175.0,260.7 L175.7,260.7 L176.4,260.7 L177.1,260.6 L177.8,260.6 L178.5,260.5 L179.2,260.5 L180.0,260.4 L180.7,260.4 L181.4,260.3 L182.1,260.3 L182.8,260.2 L183.5,260.1 L184.2,260.1 L185.0,260.0 L185.7,259.9 L186.4,259.9 L187.1,259.8 L187.8,259.8 L188.5,259.7 L189.2,259.7 L189.9,259.6 L190.7,259.6 L191.4,259.5 L192.1,259.4 L192.8,259.4 L193.5,259.3 L194.2,259.3 L194.9,259.2 L195.7,259.2 L196.4,259.1 L197.1,259.1 L197.8,259.1 L198.5,259.0 L199.2,259.0 L199.9,259.0 L200.7,258.9 L201.4,258.9 L202.1,258.9 L202.8,258.9 L203.5,258.9 L204.2,258.9 L204.9,258.8 L205.7,258.8 L206.4,258.8 L207.1,258.8 L207.8,258.8 L208.5,258.8 L209.2,258.8 L209.9,258.8 L210.6,258.8 L211.4,258.8 L212.1,258.8 L212.8,258.8 L213.5,258.8 L214.2,258.8 L214.9,258.9 L215.6,258.9 L216.4,258.9 L217.1,258.9 L217.8,259.0 L218.5,259.0 L219.2,259.0 L219.9,259.0 L220.6,259.1 L221.4,259.1 L222.1,259.1 L222.8,259.1 L223.5,259.1 L224.2,259.2 L224.9,259.2 L225.6,259.2 L226.3,259.2 L227.1,259.3 L227.8,259.3 L228.5,259.3 L229.2,259.3 L229.9,259.4 L230.6,259.4 L231.3,259.4 L232.1,259.4 L232.8,259.4 L233.5,259.5 L234.2,259.5 L234.9,259.5 L235.6,259.5 L236.3,259.5 L237.1,259.5 L237.8,259.5 L238.5,259.5 L239.2,259.5 L239.9,259.5 L240.6,259.5 L241.3,259.5 L242.1,259.5 L242.8,259.5 L243.5,259.5 L244.2,259.5 L244.9,259.5 L245.6,259.5 L246.3,259.5 L247.0,259.5 L247.8,259.5 L248.5,259.5 L249.2,259.5 L249.9,259.5 L250.6,259.5 L251.3,259.5 L252.0,259.5 L252.8,259.5 L253.5,259.5 L254.2,259.5 L254.9,259.5 L255.6,259.5 L256.3,259.5 L257.0,259.5 L257.8,259.5 L258.5,259.5 L259.2,259.5 L259.9,259.5 L260.6,259.5 L261.3,259.5 L262.0,259.5 L262.8,259.5 L263.5,259.5 L264.2,259.5 L264.9,259.5 L265.6,259.5 L266.3,259.5 L267.0,259.5 L267.7,259.5 L268.5,259.5 L269.2,259.5 L269.9,259.5 L270.6,259.5 L271.3,259.5 L272.0,259.5 L272.7,259.5 L273.5,259.5 L274.2,259.5 L274.9,259.5 L275.6,259.5 L276.3,259.5 L277.0,259.5 L277.7,259.5 L278.5,259.5 L279.2,259.5 L279.9,259.5 L280.6,259.5 L281.3,259.5 L282.0,259.5 L282.7,259.5 L283.4,259.5 L284.2,259.5 L284.9,259.5 L285.6,259.5 L286.3,259.5 L287.0,259.5 L287.7,259.5 L288.4,259.5 L289.2,259.5 L289.9,259.5 L290.6,259.5 L291.3,259.5 L292.0,259.5 L292.7,259.5 L293.4,259.5 L294.2,259.5 L294.9,259.5 L295.6,259.5 L296.3,259.5 L297.0,259.5 L297.7,259.5 L298.4,259.5 L299.2,259.5 L299.9,259.5 L300.6,259.5 L301.3,259.5 L302.0,259.5 L302.7,259.5 L303.4,259.5 L304.1,259.5 L304.9,259.5 L305.6,259.5 L306.3,259.5 L307.0,259.5 L307.7,259.5 L308.4,259.5 L309.1,259.5 L309.9,259.5 L310.6,259.5 L311.3,259.5 L312.0,259.5" fill="none" stroke="#4aa5e6" stroke-width="1.25" stroke-dasharray="3.6 1.5 1.1 1.5"/>
<path d="M26.5,293.0 L27.2,293.0 L27.9,293.0 L28.6,293.0 L29.4,293.0 L30.1,293.0 L30.8,293.0 L31.5,293.0 L32.2,293.0 L32.9,293.0 L33.6,293.0 L34.4,293.0 L35.1,293.0 L35.8,293.0 L36.5,293.0 L37.2,293.0 L37.9,293.0 L38.6,293.0 L39.3,293.0 L40.1,293.0 L40.8,293.0 L41.5,293.0 L42.2,293.0 L42.9,293.0 L43.6,293.0 L44.3,293.0 L45.1,293.0 L45.8,293.0 L46.5,293.0 L47.2,293.0 L47.9,293.0 L48.6,293.0 L49.3,293.0 L50.1,293.0 L50.8,293.0 L51.5,293.0 L52.2,293.0 L52.9,293.0 L53.6,293.0 L54.3,293.0 L55.0,293.0 L55.8,293.0 L56.5,293.0 L57.2,293.0 L57.9,293.0 L58.6,293.0 L59.3,293.0 L60.0,293.0 L60.8,293.0 L61.5,293.0 L62.2,293.0 L62.9,293.0 L63.6,293.0 L64.3,293.0 L65.0,293.0 L65.8,293.0 L66.5,293.0 L67.2,293.0 L67.9,293.0 L68.6,293.0 L69.3,293.0 L70.0,293.0 L70.8,293.0 L71.5,293.0 L72.2,293.0 L72.9,293.0 L73.6,293.0 L74.3,293.0 L75.0,293.0 L75.7,293.0 L76.5,293.0 L77.2,293.0 L77.9,293.0 L78.6,293.0 L79.3,293.0 L80.0,293.0 L80.7,293.0 L81.5,293.0 L82.2,293.0 L82.9,292.9 L83.6,292.9 L84.3,292.9 L85.0,292.9 L85.7,292.9 L86.5,292.9 L87.2,292.9 L87.9,292.9 L88.6,292.9 L89.3,292.9 L90.0,292.9 L90.7,292.9 L91.5,292.9 L92.2,292.9 L92.9,292.8 L93.6,292.8 L94.3,292.8 L95.0,292.8 L95.7,292.8 L96.4,292.8 L97.2,292.7 L97.9,292.7 L98.6,292.7 L99.3,292.7 L100.0,292.7 L100.7,292.6 L101.4,292.6 L102.2,292.6 L102.9,292.5 L103.6,292.5 L104.3,292.5 L105.0,292.4 L105.7,292.4 L106.4,292.3 L107.2,292.2 L107.9,292.2 L108.6,292.1 L109.3,292.0 L110.0,291.9 L110.7,291.8 L111.4,291.7 L112.2,291.4 L112.9,291.2 L113.6,290.8 L114.3,290.5 L115.0,290.1 L115.7,289.6 L116.4,289.1 L117.1,288.6 L117.9,288.1 L118.6,287.4 L119.3,286.7 L120.0,285.8 L120.7,284.9 L121.4,284.0 L122.1,282.9 L122.9,281.9 L123.6,280.6 L124.3,279.2 L125.0,277.7 L125.7,276.1 L126.4,274.6 L127.1,273.0 L127.9,271.3 L128.6,269.5 L129.3,267.6 L130.0,265.8 L130.7,263.9 L131.4,261.9 L132.1,259.7 L132.8,258.0 L133.6,256.1 L134.3,254.1 L135.0,252.1 L135.7,250.1 L136.4,248.0 L137.1,245.8 L137.8,243.6 L138.6,241.5 L139.3,239.4 L140.0,237.4 L140.7,235.3 L141.4,233.4 L142.1,232.0 L142.8,230.9 L143.6,229.8 L144.3,228.9 L145.0,228.3 L145.7,228.1 L146.4,228.3 L147.1,228.7 L147.8,229.4 L148.6,230.1 L149.3,231.0 L150.0,232.2 L150.7,233.8 L151.4,235.4 L152.1,237.1 L152.8,238.7 L153.5,240.5 L154.3,242.4 L155.0,244.2 L155.7,245.8 L156.4,247.3 L157.1,248.7 L157.8,250.1 L158.5,251.4 L159.3,252.7 L160.0,253.8 L160.7,254.8 L161.4,255.6 L162.1,256.3 L162.8,257.0 L163.5,257.6 L164.3,258.1 L165.0,258.6 L165.7,259.0 L166.4,259.4 L167.1,259.7 L167.8,259.8 L168.5,260.0 L169.2,260.2 L170.0,260.3 L170.7,260.4 L171.4,260.5 L172.1,260.5 L172.8,260.6 L173.5,260.6 L174.2,260.7 L175.0,260.7 L175.7,260.7 L176.4,260.7 L177.1,260.7 L177.8,260.7 L178.5,260.7 L179.2,260.7 L180.0,260.7 L180.7,260.6 L181.4,260.6 L182.1,260.5 L182.8,260.5 L183.5,260.4 L184.2,260.4 L185.0,260.3 L185.7,260.3 L186.4,260.2 L187.1,260.2 L187.8,260.1 L188.5,260.0 L189.2,259.9 L189.9,259.9 L190.7,259.8 L191.4,259.8 L192.1,259.7 L192.8,259.7 L193.5,259.6 L194.2,259.6 L194.9,259.5 L195.7,259.4 L196.4,259.4 L197.1,259.3 L197.8,259.3 L198.5,259.2 L199.2,259.2 L199.9,259.1 L200.7,259.1 L201.4,259.1 L202.1,259.0 L202.8,259.0 L203.5,259.0 L204.2,258.9 L204.9,258.9 L205.7,258.9 L206.4,258.9 L207.1,258.9 L207.8,258.9 L208.5,258.8 L209.2,258.8 L209.9,258.8 L210.6,258.8 L211.4,258.8 L212.1,258.8 L212.8,258.8 L213.5,258.8 L214.2,258.8 L214.9,258.8 L215.6,258.8 L216.4,258.8 L217.1,258.8 L217.8,258.8 L218.5,258.9 L219.2,258.9 L219.9,258.9 L220.6,258.9 L221.4,259.0 L222.1,259.0 L222.8,259.0 L223.5,259.0 L224.2,259.0 L224.9,259.1 L225.6,259.1 L226.3,259.1 L227.1,259.1 L227.8,259.2 L228.5,259.2 L229.2,259.2 L229.9,259.2 L230.6,259.3 L231.3,259.3 L232.1,259.3 L232.8,259.3 L233.5,259.4 L234.2,259.4 L234.9,259.4 L235.6,259.4 L236.3,259.4 L237.1,259.5 L237.8,259.5 L238.5,259.5 L239.2,259.5 L239.9,259.5 L240.6,259.5 L241.3,259.5 L242.1,259.5 L242.8,259.5 L243.5,259.5 L244.2,259.5 L244.9,259.5 L245.6,259.5 L246.3,259.5 L247.0,259.5 L247.8,259.5 L248.5,259.5 L249.2,259.5 L249.9,259.5 L250.6,259.5 L251.3,259.5 L252.0,259.5 L252.8,259.5 L253.5,259.5 L254.2,259.5 L254.9,259.5 L255.6,259.5 L256.3,259.5 L257.0,259.5 L257.8,259.5 L258.5,259.5 L259.2,259.5 L259.9,259.5 L260.6,259.5 L261.3,259.5 L262.0,259.5 L262.8,259.5 L263.5,259.5 L264.2,259.5 L264.9,259.5 L265.6,259.5 L266.3,259.5 L267.0,259.5 L267.7,259.5 L268.5,259.5 L269.2,259.5 L269.9,259.5 L270.6,259.5 L271.3,259.5 L272.0,259.5 L272.7,259.5 L273.5,259.5 L274.2,259.5 L274.9,259.5 L275.6,259.5 L276.3,259.5 L277.0,259.5 L277.7,259.5 L278.5,259.5 L279.2,259.5 L279.9,259.5 L280.6,259.5 L281.3,259.5 L282.0,259.5 L282.7,259.5 L283.4,259.5 L284.2,259.5 L284.9,259.5 L285.6,259.5 L286.3,259.5 L287.0,259.5 L287.7,259.5 L288.4,259.5 L289.2,259.5 L289.9,259.5 L290.6,259.5 L291.3,259.5 L292.0,259.5 L292.7,259.5 L293.4,259.5 L294.2,259.5 L294.9,259.5 L295.6,259.5 L296.3,259.5 L297.0,259.5 L297.7,259.5 L298.4,259.5 L299.2,259.5 L299.9,259.5 L300.6,259.5 L301.3,259.5 L302.0,259.5 L302.7,259.5 L303.4,259.5 L304.1,259.5 L304.9,259.5 L305.6,259.5 L306.3,259.5 L307.0,259.5 L307.7,259.5 L308.4,259.5 L309.1,259.5 L309.9,259.5 L310.6,259.5 L311.3,259.5 L312.0,259.5" fill="none" stroke="#4aa5e6" stroke-width="1.25" stroke-dasharray="3.6 1.5 1.1 1.5"/>
<path d="M26.5,293.0 L27.2,293.0 L27.9,293.0 L28.6,293.0 L29.4,293.0 L30.1,293.0 L30.8,293.0 L31.5,293.0 L32.2,293.0 L32.9,293.0 L33.6,293.0 L34.4,293.0 L35.1,293.0 L35.8,293.0 L36.5,293.0 L37.2,293.0 L37.9,293.0 L38.6,293.0 L39.3,293.0 L40.1,293.0 L40.8,293.0 L41.5,293.0 L42.2,293.0 L42.9,293.0 L43.6,293.0 L44.3,293.0 L45.1,293.0 L45.8,293.0 L46.5,293.0 L47.2,293.0 L47.9,293.0 L48.6,293.0 L49.3,293.0 L50.1,293.0 L50.8,293.0 L51.5,293.0 L52.2,293.0 L52.9,293.0 L53.6,293.0 L54.3,293.0 L55.0,293.0 L55.8,293.0 L56.5,293.0 L57.2,293.0 L57.9,293.0 L58.6,293.0 L59.3,293.0 L60.0,293.0 L60.8,293.0 L61.5,293.0 L62.2,293.0 L62.9,293.0 L63.6,293.0 L64.3,293.0 L65.0,293.0 L65.8,293.0 L66.5,293.0 L67.2,293.0 L67.9,293.0 L68.6,293.0 L69.3,293.0 L70.0,293.0 L70.8,293.0 L71.5,293.0 L72.2,293.0 L72.9,293.0 L73.6,293.0 L74.3,293.0 L75.0,293.0 L75.7,293.0 L76.5,293.0 L77.2,293.0 L77.9,293.0 L78.6,293.0 L79.3,293.0 L80.0,293.0 L80.7,293.0 L81.5,293.0 L82.2,293.0 L82.9,293.0 L83.6,293.0 L84.3,293.0 L85.0,293.0 L85.7,293.0 L86.5,293.0 L87.2,293.0 L87.9,293.0 L88.6,293.0 L89.3,292.9 L90.0,292.9 L90.7,292.9 L91.5,292.9 L92.2,292.9 L92.9,292.9 L93.6,292.9 L94.3,292.9 L95.0,292.9 L95.7,292.9 L96.4,292.9 L97.2,292.9 L97.9,292.9 L98.6,292.8 L99.3,292.8 L100.0,292.8 L100.7,292.8 L101.4,292.8 L102.2,292.8 L102.9,292.8 L103.6,292.7 L104.3,292.7 L105.0,292.7 L105.7,292.7 L106.4,292.7 L107.2,292.6 L107.9,292.6 L108.6,292.6 L109.3,292.5 L110.0,292.5 L110.7,292.4 L111.4,292.4 L112.2,292.3 L112.9,292.3 L113.6,292.2 L114.3,292.1 L115.0,292.1 L115.7,292.0 L116.4,291.9 L117.1,291.8 L117.9,291.6 L118.6,291.3 L119.3,290.9 L120.0,290.5 L120.7,290.0 L121.4,289.5 L122.1,288.9 L122.9,288.3 L123.6,287.5 L124.3,286.7 L125.0,285.7 L125.7,284.6 L126.4,283.5 L127.1,282.3 L127.9,280.8 L128.6,279.2 L129.3,277.4 L130.0,275.6 L130.7,273.8 L131.4,271.8 L132.1,269.7 L132.8,267.6 L133.6,265.4 L134.3,263.2 L135.0,260.7 L135.7,258.9 L136.4,257.4 L137.1,255.9 L137.8,254.3 L138.6,252.6 L139.3,251.0 L140.0,249.3 L140.7,247.6 L141.4,245.8 L142.1,244.0 L142.8,242.2 L143.6,240.5 L144.3,238.9 L145.0,237.2 L145.7,235.5 L146.4,233.9 L147.1,232.6 L147.8,231.6 L148.6,230.7 L149.3,229.8 L150.0,229.1 L150.7,228.5 L151.4,228.2 L152.1,228.1 L152.8,228.4 L153.5,228.9 L154.3,229.6 L155.0,230.4 L155.7,231.4 L156.4,232.7 L157.1,234.3 L157.8,236.0 L158.5,237.6 L159.3,239.3 L160.0,241.1 L160.7,243.0 L161.4,244.8 L162.1,246.4 L162.8,247.8 L163.5,249.2 L164.3,250.6 L165.0,251.9 L165.7,253.1 L166.4,254.2 L167.1,255.1 L167.8,255.9 L168.5,256.6 L169.2,257.2 L170.0,257.8 L170.7,258.3 L171.4,258.8 L172.1,259.2 L172.8,259.5 L173.5,259.7 L174.2,259.9 L175.0,260.1 L175.7,260.2 L176.4,260.3 L177.1,260.4 L177.8,260.5 L178.5,260.5 L179.2,260.6 L180.0,260.6 L180.7,260.7 L181.4,260.7 L182.1,260.7 L182.8,260.7 L183.5,260.7 L184.2,260.7 L185.0,260.7 L185.7,260.7 L186.4,260.7 L187.1,260.6 L187.8,260.6 L188.5,260.5 L189.2,260.5 L189.9,260.4 L190.7,260.4 L191.4,260.3 L192.1,260.3 L192.8,260.2 L193.5,260.1 L194.2,260.1 L194.9,260.0 L195.7,259.9 L196.4,259.9 L197.1,259.8 L197.8,259.7 L198.5,259.7 L199.2,259.6 L199.9,259.6 L200.7,259.6 L201.4,259.5 L202.1,259.4 L202.8,259.4 L203.5,259.3 L204.2,259.3 L204.9,259.2 L205.7,259.2 L206.4,259.1 L207.1,259.1 L207.8,259.1 L208.5,259.0 L209.2,259.0 L209.9,259.0 L210.6,258.9 L211.4,258.9 L212.1,258.9 L212.8,258.9 L213.5,258.9 L214.2,258.8 L214.9,258.8 L215.6,258.8 L216.4,258.8 L217.1,258.8 L217.8,258.8 L218.5,258.8 L219.2,258.8 L219.9,258.8 L220.6,258.8 L221.4,258.8 L222.1,258.8 L222.8,258.8 L223.5,258.8 L224.2,258.8 L224.9,258.9 L225.6,258.9 L226.3,258.9 L227.1,258.9 L227.8,259.0 L228.5,259.0 L229.2,259.0 L229.9,259.0 L230.6,259.1 L231.3,259.1 L232.1,259.1 L232.8,259.1 L233.5,259.1 L234.2,259.2 L234.9,259.2 L235.6,259.2 L236.3,259.2 L237.1,259.3 L237.8,259.3 L238.5,259.3 L239.2,259.3 L239.9,259.4 L240.6,259.4 L241.3,259.4 L242.1,259.4 L242.8,259.4 L243.5,259.5 L244.2,259.5 L244.9,259.5 L245.6,259.5 L246.3,259.5 L247.0,259.5 L247.8,259.5 L248.5,259.5 L249.2,259.5 L249.9,259.5 L250.6,259.5 L251.3,259.5 L252.0,259.5 L252.8,259.5 L253.5,259.5 L254.2,259.5 L254.9,259.5 L255.6,259.5 L256.3,259.5 L257.0,259.5 L257.8,259.5 L258.5,259.5 L259.2,259.5 L259.9,259.5 L260.6,259.5 L261.3,259.5 L262.0,259.5 L262.8,259.5 L263.5,259.5 L264.2,259.5 L264.9,259.5 L265.6,259.5 L266.3,259.5 L267.0,259.5 L267.7,259.5 L268.5,259.5 L269.2,259.5 L269.9,259.5 L270.6,259.5 L271.3,259.5 L272.0,259.5 L272.7,259.5 L273.5,259.5 L274.2,259.5 L274.9,259.5 L275.6,259.5 L276.3,259.5 L277.0,259.5 L277.7,259.5 L278.5,259.5 L279.2,259.5 L279.9,259.5 L280.6,259.5 L281.3,259.5 L282.0,259.5 L282.7,259.5 L283.4,259.5 L284.2,259.5 L284.9,259.5 L285.6,259.5 L286.3,259.5 L287.0,259.5 L287.7,259.5 L288.4,259.5 L289.2,259.5 L289.9,259.5 L290.6,259.5 L291.3,259.5 L292.0,259.5 L292.7,259.5 L293.4,259.5 L294.2,259.5 L294.9,259.5 L295.6,259.5 L296.3,259.5 L297.0,259.5 L297.7,259.5 L298.4,259.5 L299.2,259.5 L299.9,259.5 L300.6,259.5 L301.3,259.5 L302.0,259.5 L302.7,259.5 L303.4,259.5 L304.1,259.5 L304.9,259.5 L305.6,259.5 L306.3,259.5 L307.0,259.5 L307.7,259.5 L308.4,259.5 L309.1,259.5 L309.9,259.5 L310.6,259.5 L311.3,259.5 L312.0,259.5" fill="none" stroke="#4aa5e6" stroke-width="1.25" stroke-dasharray="3.6 1.5 1.1 1.5"/>
<text x="23.3" y="114.70" text-anchor="end" font-family="Liberation Sans, Arial, sans-serif" font-size="8.6" fill="#1e1e1e" stroke="#1e1e1e" stroke-width="0.15">0</text><text x="23.3" y="89.35" text-anchor="end" font-family="Liberation Sans, Arial, sans-serif" font-size="8.6" fill="#1e1e1e" stroke="#1e1e1e" stroke-width="0.15">1</text><text x="23.3" y="64.00" text-anchor="end" font-family="Liberation Sans, Arial, sans-serif" font-size="8.6" fill="#1e1e1e" stroke="#1e1e1e" stroke-width="0.15">2</text><text x="23.3" y="38.65" text-anchor="end" font-family="Liberation Sans, Arial, sans-serif" font-size="8.6" fill="#1e1e1e" stroke="#1e1e1e" stroke-width="0.15">3</text><text x="26.50" y="122.80" text-anchor="middle" font-family="Liberation Sans, Arial, sans-serif" font-size="8.6" fill="#1e1e1e" stroke="#1e1e1e" stroke-width="0.15">0</text><text x="62.19" y="122.80" text-anchor="middle" font-family="Liberation Sans, Arial, sans-serif" font-size="8.6" fill="#1e1e1e" stroke="#1e1e1e" stroke-width="0.15">50</text><text x="97.88" y="122.80" text-anchor="middle" font-family="Liberation Sans, Arial, sans-serif" font-size="8.6" fill="#1e1e1e" stroke="#1e1e1e" stroke-width="0.15">100</text><text x="133.56" y="122.80" text-anchor="middle" font-family="Liberation Sans, Arial, sans-serif" font-size="8.6" fill="#1e1e1e" stroke="#1e1e1e" stroke-width="0.15">150</text><text x="169.25" y="122.80" text-anchor="middle" font-family="Liberation Sans, Arial, sans-serif" font-size="8.6" fill="#1e1e1e" stroke="#1e1e1e" stroke-width="0.15">200</text><text x="204.94" y="122.80" text-anchor="middle" font-family="Liberation Sans, Arial, sans-serif" font-size="8.6" fill="#1e1e1e" stroke="#1e1e1e" stroke-width="0.15">250</text><text x="240.62" y="122.80" text-anchor="middle" font-family="Liberation Sans, Arial, sans-serif" font-size="8.6" fill="#1e1e1e" stroke="#1e1e1e" stroke-width="0.15">300</text><text x="276.31" y="122.80" text-anchor="middle" font-family="Liberation Sans, Arial, sans-serif" font-size="8.6" fill="#1e1e1e" stroke="#1e1e1e" stroke-width="0.15">350</text><text x="312.00" y="122.80" text-anchor="middle" font-family="Liberation Sans, Arial, sans-serif" font-size="8.6" fill="#1e1e1e" stroke="#1e1e1e" stroke-width="0.15">400</text><text x="27.4" y="33.50" font-family="Liberation Sans, Arial, sans-serif" font-size="9" fill="#666">×</text><text x="34.0" y="33.50" font-family="Liberation Sans, Arial, sans-serif" font-size="8.6" fill="#1e1e1e" stroke="#1e1e1e" stroke-width="0.15">10</text><text x="43.3" y="29.30" font-family="Liberation Sans, Arial, sans-serif" font-size="6" fill="#1e1e1e">4</text><text transform="translate(15.2,74.40) rotate(-90)" text-anchor="middle" font-family="Liberation Sans, Arial, sans-serif" font-size="9.3" fill="#1e1e1e" stroke="#1e1e1e" stroke-width="0.15">Infectious</text>
<text x="23.3" y="206.80" text-anchor="end" font-family="Liberation Sans, Arial, sans-serif" font-size="8.6" fill="#1e1e1e" stroke="#1e1e1e" stroke-width="0.15">0</text><text x="23.3" y="181.45" text-anchor="end" font-family="Liberation Sans, Arial, sans-serif" font-size="8.6" fill="#1e1e1e" stroke="#1e1e1e" stroke-width="0.15">1</text><text x="23.3" y="156.10" text-anchor="end" font-family="Liberation Sans, Arial, sans-serif" font-size="8.6" fill="#1e1e1e" stroke="#1e1e1e" stroke-width="0.15">2</text><text x="23.3" y="130.75" text-anchor="end" font-family="Liberation Sans, Arial, sans-serif" font-size="8.6" fill="#1e1e1e" stroke="#1e1e1e" stroke-width="0.15">3</text><text x="26.50" y="214.90" text-anchor="middle" font-family="Liberation Sans, Arial, sans-serif" font-size="8.6" fill="#1e1e1e" stroke="#1e1e1e" stroke-width="0.15">0</text><text x="62.19" y="214.90" text-anchor="middle" font-family="Liberation Sans, Arial, sans-serif" font-size="8.6" fill="#1e1e1e" stroke="#1e1e1e" stroke-width="0.15">50</text><text x="97.88" y="214.90" text-anchor="middle" font-family="Liberation Sans, Arial, sans-serif" font-size="8.6" fill="#1e1e1e" stroke="#1e1e1e" stroke-width="0.15">100</text><text x="133.56" y="214.90" text-anchor="middle" font-family="Liberation Sans, Arial, sans-serif" font-size="8.6" fill="#1e1e1e" stroke="#1e1e1e" stroke-width="0.15">150</text><text x="169.25" y="214.90" text-anchor="middle" font-family="Liberation Sans, Arial, sans-serif" font-size="8.6" fill="#1e1e1e" stroke="#1e1e1e" stroke-width="0.15">200</text><text x="204.94" y="214.90" text-anchor="middle" font-family="Liberation Sans, Arial, sans-serif" font-size="8.6" fill="#1e1e1e" stroke="#1e1e1e" stroke-width="0.15">250</text><text x="240.62" y="214.90" text-anchor="middle" font-family="Liberation Sans, Arial, sans-serif" font-size="8.6" fill="#1e1e1e" stroke="#1e1e1e" stroke-width="0.15">300</text><text x="276.31" y="214.90" text-anchor="middle" font-family="Liberation Sans, Arial, sans-serif" font-size="8.6" fill="#1e1e1e" stroke="#1e1e1e" stroke-width="0.15">350</text><text x="312.00" y="214.90" text-anchor="middle" font-family="Liberation Sans, Arial, sans-serif" font-size="8.6" fill="#1e1e1e" stroke="#1e1e1e" stroke-width="0.15">400</text><text x="27.4" y="126.00" font-family="Liberation Sans, Arial, sans-serif" font-size="9" fill="#666">×</text><text x="34.0" y="126.00" font-family="Liberation Sans, Arial, sans-serif" font-size="8.6" fill="#1e1e1e" stroke="#1e1e1e" stroke-width="0.15">10</text><text x="43.3" y="121.80" font-family="Liberation Sans, Arial, sans-serif" font-size="6" fill="#1e1e1e">4</text><text transform="translate(15.2,166.70) rotate(-90)" text-anchor="middle" font-family="Liberation Sans, Arial, sans-serif" font-size="9.3" fill="#1e1e1e" stroke="#1e1e1e" stroke-width="0.15">Infectious</text>
<text x="23.3" y="296.00" text-anchor="end" font-family="Liberation Sans, Arial, sans-serif" font-size="8.6" fill="#1e1e1e" stroke="#1e1e1e" stroke-width="0.15">0</text><text x="23.3" y="270.65" text-anchor="end" font-family="Liberation Sans, Arial, sans-serif" font-size="8.6" fill="#1e1e1e" stroke="#1e1e1e" stroke-width="0.15">1</text><text x="23.3" y="245.30" text-anchor="end" font-family="Liberation Sans, Arial, sans-serif" font-size="8.6" fill="#1e1e1e" stroke="#1e1e1e" stroke-width="0.15">2</text><text x="23.3" y="219.95" text-anchor="end" font-family="Liberation Sans, Arial, sans-serif" font-size="8.6" fill="#1e1e1e" stroke="#1e1e1e" stroke-width="0.15">3</text><text x="26.50" y="304.10" text-anchor="middle" font-family="Liberation Sans, Arial, sans-serif" font-size="8.6" fill="#1e1e1e" stroke="#1e1e1e" stroke-width="0.15">0</text><text x="62.19" y="304.10" text-anchor="middle" font-family="Liberation Sans, Arial, sans-serif" font-size="8.6" fill="#1e1e1e" stroke="#1e1e1e" stroke-width="0.15">50</text><text x="97.88" y="304.10" text-anchor="middle" font-family="Liberation Sans, Arial, sans-serif" font-size="8.6" fill="#1e1e1e" stroke="#1e1e1e" stroke-width="0.15">100</text><text x="133.56" y="304.10" text-anchor="middle" font-family="Liberation Sans, Arial, sans-serif" font-size="8.6" fill="#1e1e1e" stroke="#1e1e1e" stroke-width="0.15">150</text><text x="169.25" y="304.10" text-anchor="middle" font-family="Liberation Sans, Arial, sans-serif" font-size="8.6" fill="#1e1e1e" stroke="#1e1e1e" stroke-width="0.15">200</text><text x="204.94" y="304.10" text-anchor="middle" font-family="Liberation Sans, Arial, sans-serif" font-size="8.6" fill="#1e1e1e" stroke="#1e1e1e" stroke-width="0.15">250</text><text x="240.62" y="304.10" text-anchor="middle" font-family="Liberation Sans, Arial, sans-serif" font-size="8.6" fill="#1e1e1e" stroke="#1e1e1e" stroke-width="0.15">300</text><text x="276.31" y="304.10" text-anchor="middle" font-family="Liberation Sans, Arial, sans-serif" font-size="8.6" fill="#1e1e1e" stroke="#1e1e1e" stroke-width="0.15">350</text><text x="312.00" y="304.10" text-anchor="middle" font-family="Liberation Sans, Arial, sans-serif" font-size="8.6" fill="#1e1e1e" stroke="#1e1e1e" stroke-width="0.15">400</text><text x="27.4" y="215.00" font-family="Liberation Sans, Arial, sans-serif" font-size="9" fill="#666">×</text><text x="34.0" y="215.00" font-family="Liberation Sans, Arial, sans-serif" font-size="8.6" fill="#1e1e1e" stroke="#1e1e1e" stroke-width="0.15">10</text><text x="43.3" y="210.80" font-family="Liberation Sans, Arial, sans-serif" font-size="6" fill="#1e1e1e">4</text><text transform="translate(15.2,255.80) rotate(-90)" text-anchor="middle" font-family="Liberation Sans, Arial, sans-serif" font-size="9.3" fill="#1e1e1e" stroke="#1e1e1e" stroke-width="0.15">Infectious</text>
<text x="159" y="13.7" text-anchor="middle" font-family="Liberation Serif, Times New Roman, serif" font-size="9.6" fill="#111">Center of</text>
<text x="159" y="24.3" text-anchor="middle" font-family="Liberation Serif, Times New Roman, serif" font-size="9.6" fill="#111">domain</text>
<text x="242.7" y="23.2" font-family="Liberation Serif, Times New Roman, serif" font-size="9.6" fill="#111">Boundary</text>
<line x1="185" y1="20" x2="233" y2="20" stroke="#111" stroke-width="0.8"/>
<path d="M237,20 L231.5,17.9 L231.5,22.1 Z" fill="#111"/>
<text x="251.3" y="50.9" font-family="Liberation Serif, Times New Roman, serif" font-size="9.6" font-weight="bold" fill="#111">No diffusion</text>
<text y="147.7" font-family="Liberation Serif, Times New Roman, serif" font-size="9.8" font-weight="bold" fill="#111"><tspan x="251.3">D</tspan><tspan x="260.5">=</tspan><tspan x="268.9">1</tspan><tspan x="273.9" dy="1" font-size="11.6">×</tspan><tspan x="281.3" dy="-1">1</tspan><tspan x="287.1">0</tspan><tspan x="292.9" dy="-3.4" font-size="7.2">−5</tspan></text>
<text y="242.0" font-family="Liberation Serif, Times New Roman, serif" font-size="9.8" font-weight="bold" fill="#111"><tspan x="252.0">D</tspan><tspan x="261.2">=</tspan><tspan x="269.6">1</tspan><tspan x="274.6" dy="1" font-size="11.6">×</tspan><tspan x="282.0" dy="-1">1</tspan><tspan x="287.8">0</tspan><tspan x="293.6" dy="-3.4" font-size="7.2">−4</tspan></text>
<text x="169.8" y="316" text-anchor="middle" font-family="Liberation Sans, Arial, sans-serif" font-size="9.45" fill="#1e1e1e" stroke="#1e1e1e" stroke-width="0.15">Time, [days]</text>
<defs><linearGradient id="g0" gradientUnits="userSpaceOnUse" x1="-60.0" y1="0" x2="70.0" y2="0"><stop offset="0.0000" stop-color="#3a2ba5"/><stop offset="0.2981" stop-color="#3b2ba7"/><stop offset="0.3231" stop-color="#3d2caf"/><stop offset="0.3365" stop-color="#402fbd"/><stop offset="0.3442" stop-color="#4434cd"/><stop offset="0.3500" stop-color="#4539d9"/><stop offset="0.3654" stop-color="#484df0"/><stop offset="0.3769" stop-color="#4465fd"/><stop offset="0.3827" stop-color="#3875fe"/><stop offset="0.3865" stop-color="#3081fa"/><stop offset="0.3942" stop-color="#3397ea"/><stop offset="0.3981" stop-color="#3fa2e2"/><stop offset="0.4038" stop-color="#5ab1d2"/><stop offset="0.4077" stop-color="#5fbabf"/><stop offset="0.4115" stop-color="#72c1ac"/><stop offset="0.4135" stop-color="#6dc4a2"/><stop offset="0.4154" stop-color="#62c797"/><stop offset="0.4173" stop-color="#5dca8b"/><stop offset="0.4192" stop-color="#62cc7d"/><stop offset="0.4212" stop-color="#6ecd6d"/><stop offset="0.4250" stop-color="#94ca4b"/><stop offset="0.4288" stop-color="#bcc42f"/><stop offset="0.4308" stop-color="#cec028"/><stop offset="0.4327" stop-color="#debd29"/><stop offset="0.4365" stop-color="#f8ba3d"/><stop offset="0.4385" stop-color="#fec03b"/><stop offset="0.4442" stop-color="#f9d72d"/><stop offset="0.4519" stop-color="#f5eb23"/><stop offset="0.4596" stop-color="#f8f719"/><stop offset="0.4673" stop-color="#f7f61a"/><stop offset="0.4788" stop-color="#f5e825"/><stop offset="0.4904" stop-color="#fec934"/><stop offset="0.4942" stop-color="#febe3c"/><stop offset="0.4962" stop-color="#f9bb3d"/><stop offset="0.5019" stop-color="#debd29"/><stop offset="0.5038" stop-color="#d3bf27"/><stop offset="0.5077" stop-color="#bbc430"/><stop offset="0.5192" stop-color="#7acc60"/><stop offset="0.5250" stop-color="#65cc79"/><stop offset="0.5308" stop-color="#5dca8b"/><stop offset="0.5404" stop-color="#68c59e"/><stop offset="0.5519" stop-color="#72c1ab"/><stop offset="0.5654" stop-color="#6dbeb4"/><stop offset="0.6038" stop-color="#67bdb8"/><stop offset="0.6788" stop-color="#6bbeb5"/><stop offset="0.7750" stop-color="#71c0af"/><stop offset="0.8865" stop-color="#6fbfb1"/><stop offset="1.0000" stop-color="#6dbeb3"/></linearGradient><linearGradient id="g1" gradientUnits="userSpaceOnUse" x1="-60.0" y1="0" x2="70.0" y2="0"><stop offset="0.0000" stop-color="#3a2ba5"/><stop offset="0.2962" stop-color="#3b2ba7"/><stop offset="0.3250" stop-color="#3e2cb0"/><stop offset="0.3385" stop-color="#4130bf"/><stop offset="0.3538" stop-color="#463cde"/><stop offset="0.3712" stop-color="#4856f6"/><stop offset="0.3788" stop-color="#4268fe"/><stop offset="0.3865" stop-color="#337efb"/><stop offset="0.3923" stop-color="#328ff0"/><stop offset="0.3981" stop-color="#3c9fe4"/><stop offset="0.4038" stop-color="#54afd4"/><stop offset="0.4115" stop-color="#6abfb1"/><stop offset="0.4154" stop-color="#68c69c"/><stop offset="0.4173" stop-color="#64c890"/><stop offset="0.4192" stop-color="#64ca83"/><stop offset="0.4212" stop-color="#6bcc74"/><stop offset="0.4250" stop-color="#8aca54"/><stop offset="0.4288" stop-color="#b2c537"/><stop offset="0.4308" stop-color="#c4c22f"/><stop offset="0.4327" stop-color="#d5bf2c"/><stop offset="0.4365" stop-color="#f0bc35"/><stop offset="0.4404" stop-color="#fcc437"/><stop offset="0.4481" stop-color="#f6df29"/><stop offset="0.4577" stop-color="#f6f31c"/><stop offset="0.4654" stop-color="#f8f719"/><stop offset="0.4788" stop-color="#f5e924"/><stop offset="0.4942" stop-color="#fdc139"/><stop offset="0.4981" stop-color="#f4bc38"/><stop offset="0.5038" stop-color="#d8be2a"/><stop offset="0.5077" stop-color="#c1c22e"/><stop offset="0.5173" stop-color="#89cb54"/><stop offset="0.5231" stop-color="#6ecc6d"/><stop offset="0.5288" stop-color="#60cb82"/><stop offset="0.5346" stop-color="#5fc892"/><stop offset="0.5481" stop-color="#6fc3a6"/><stop offset="0.5596" stop-color="#70c0b0"/><stop offset="0.5923" stop-color="#68bdb8"/><stop offset="0.6654" stop-color="#6abdb6"/><stop offset="0.7769" stop-color="#71c0af"/><stop offset="0.9115" stop-color="#6ebfb2"/><stop offset="1.0000" stop-color="#6dbeb3"/></linearGradient><linearGradient id="g2" gradientUnits="userSpaceOnUse" x1="-60.0" y1="0" x2="70.0" y2="0"><stop offset="0.0000" stop-color="#3a2ba5"/><stop offset="0.2962" stop-color="#3b2ba7"/><stop offset="0.3231" stop-color="#3d2caf"/><stop offset="0.3365" stop-color="#402fbd"/><stop offset="0.3558" stop-color="#463ee0"/><stop offset="0.3712" stop-color="#4756f6"/><stop offset="0.3808" stop-color="#3e6efc"/><stop offset="0.3885" stop-color="#3484f7"/><stop offset="0.3942" stop-color="#3794ec"/><stop offset="0.4038" stop-color="#52aed2"/><stop offset="0.4077" stop-color="#5fb7c3"/><stop offset="0.4154" stop-color="#67c59a"/><stop offset="0.4212" stop-color="#77c972"/><stop offset="0.4250" stop-color="#8ec856"/><stop offset="0.4288" stop-color="#b0c540"/><stop offset="0.4327" stop-color="#d1c136"/><stop offset="0.4365" stop-color="#e8c232"/><stop offset="0.4404" stop-color="#f5c832"/><stop offset="0.4462" stop-color="#f9d82d"/><stop offset="0.4558" stop-color="#f6ef1f"/><stop offset="0.4635" stop-color="#f7f61a"/><stop offset="0.4731" stop-color="#f6f01e"/><stop offset="0.4846" stop-color="#f8dc2b"/><stop offset="0.4923" stop-color="#fac835"/><stop offset="0.4981" stop-color="#f0bf33"/><stop offset="0.5038" stop-color="#d6bf30"/><stop offset="0.5096" stop-color="#b6c437"/><stop offset="0.5192" stop-color="#81cb5c"/><stop offset="0.5250" stop-color="#6bcc73"/><stop offset="0.5308" stop-color="#61ca87"/><stop offset="0.5385" stop-color="#64c798"/><stop offset="0.5519" stop-color="#70c2aa"/><stop offset="0.5712" stop-color="#6cbeb5"/><stop offset="0.6288" stop-color="#67bdb8"/><stop offset="0.7788" stop-color="#71c0af"/><stop offset="1.0000" stop-color="#6dbeb3"/></linearGradient><linearGradient id="g3" gradientUnits="userSpaceOnUse" x1="-60.0" y1="0" x2="70.0" y2="0"><stop offset="0.0000" stop-color="#3a2ba5"/><stop offset="0.2962" stop-color="#3b2ba7"/><stop offset="0.3231" stop-color="#3d2cb0"/><stop offset="0.3365" stop-color="#4130be"/><stop offset="0.3558" stop-color="#463fe0"/><stop offset="0.3712" stop-color="#4657f5"/><stop offset="0.3808" stop-color="#3d6efa"/><stop offset="0.3904" stop-color="#3889f2"/><stop offset="0.3981" stop-color="#429fe2"/><stop offset="0.4077" stop-color="#59b6c0"/><stop offset="0.4135" stop-color="#65c1a3"/><stop offset="0.4192" stop-color="#79c67d"/><stop offset="0.4250" stop-color="#96c65b"/><stop offset="0.4327" stop-color="#c9c53d"/><stop offset="0.4385" stop-color="#e7c931"/><stop offset="0.4442" stop-color="#f5d32d"/><stop offset="0.4519" stop-color="#f8e624"/><stop offset="0.4596" stop-color="#f7f11d"/><stop offset="0.4692" stop-color="#f7f31d"/><stop offset="0.4788" stop-color="#f7e624"/><stop offset="0.4904" stop-color="#f8ce31"/><stop offset="0.4962" stop-color="#efc431"/><stop offset="0.5019" stop-color="#dcc134"/><stop offset="0.5115" stop-color="#abc640"/><stop offset="0.5192" stop-color="#84ca5c"/><stop offset="0.5250" stop-color="#70cb72"/><stop offset="0.5308" stop-color="#66ca85"/><stop offset="0.5385" stop-color="#65c797"/><stop offset="0.5538" stop-color="#6fc1ab"/><stop offset="0.5750" stop-color="#6bbeb6"/><stop offset="0.6365" stop-color="#68bdb8"/><stop offset="0.7788" stop-color="#71c0af"/><stop offset="1.0000" stop-color="#6dbeb3"/></linearGradient><linearGradient id="g4" gradientUnits="userSpaceOnUse" x1="-60.0" y1="0" x2="70.0" y2="0"><stop offset="0.0000" stop-color="#3a2ba5"/><stop offset="0.2942" stop-color="#3b2ba7"/><stop offset="0.3212" stop-color="#3d2caf"/><stop offset="0.3385" stop-color="#4131c3"/><stop offset="0.3577" stop-color="#4642e2"/><stop offset="0.3712" stop-color="#4359f3"/><stop offset="0.3827" stop-color="#3d74f5"/><stop offset="0.3923" stop-color="#418eeb"/><stop offset="0.4019" stop-color="#4ca7d1"/><stop offset="0.4096" stop-color="#5cb7b0"/><stop offset="0.4192" stop-color="#84c17e"/><stop offset="0.4308" stop-color="#b8c84e"/><stop offset="0.4404" stop-color="#e0d131"/><stop offset="0.4462" stop-color="#f0d829"/><stop offset="0.4538" stop-color="#f8e525"/><stop offset="0.4635" stop-color="#f6ef1f"/><stop offset="0.4731" stop-color="#f7ec21"/><stop offset="0.4846" stop-color="#f7d92b"/><stop offset="0.4942" stop-color="#eacc2f"/><stop offset="0.5038" stop-color="#cdc53a"/><stop offset="0.5173" stop-color="#92c756"/><stop offset="0.5250" stop-color="#79c96f"/><stop offset="0.5327" stop-color="#6bc986"/><stop offset="0.5423" stop-color="#69c59b"/><stop offset="0.5577" stop-color="#6ec0ad"/><stop offset="0.5827" stop-color="#69bdb7"/><stop offset="0.6519" stop-color="#69bdb7"/><stop offset="0.7827" stop-color="#71c0af"/><stop offset="1.0000" stop-color="#6dbeb3"/></linearGradient><linearGradient id="g5" gradientUnits="userSpaceOnUse" x1="-60.0" y1="0" x2="70.0" y2="0"><stop offset="0.0000" stop-color="#3a2ba5"/><stop offset="0.2923" stop-color="#3b2ba7"/><stop offset="0.3192" stop-color="#3d2cb0"/><stop offset="0.3404" stop-color="#4234c7"/><stop offset="0.3596" stop-color="#4547e4"/><stop offset="0.3731" stop-color="#4060f1"/><stop offset="0.3846" stop-color="#427aef"/><stop offset="0.3942" stop-color="#4893e1"/><stop offset="0.4019" stop-color="#4fa5ca"/><stop offset="0.4077" stop-color="#5cb0b2"/><stop offset="0.4192" stop-color="#8bbd82"/><stop offset="0.4308" stop-color="#b6ca56"/><stop offset="0.4423" stop-color="#dad733"/><stop offset="0.4500" stop-color="#efde27"/><stop offset="0.4577" stop-color="#f7e524"/><stop offset="0.4673" stop-color="#f7ea22"/><stop offset="0.4808" stop-color="#f6de27"/><stop offset="0.4904" stop-color="#e9d42c"/><stop offset="0.5019" stop-color="#ccca3b"/><stop offset="0.5192" stop-color="#93c65f"/><stop offset="0.5288" stop-color="#7ac877"/><stop offset="0.5404" stop-color="#6bc694"/><stop offset="0.5538" stop-color="#6bc2a8"/><stop offset="0.5769" stop-color="#6bbeb5"/><stop offset="0.6365" stop-color="#68bdb8"/><stop offset="0.7865" stop-color="#71c0ae"/><stop offset="1.0000" stop-color="#6dbeb3"/></linearGradient><linearGradient id="g6" gradientUnits="userSpaceOnUse" x1="-60.0" y1="0" x2="70.0" y2="0"><stop offset="0.0000" stop-color="#3a2ba5"/><stop offset="0.2904" stop-color="#3b2ba7"/><stop offset="0.3154" stop-color="#3d2cb0"/><stop offset="0.3404" stop-color="#4236c9"/><stop offset="0.3596" stop-color="#424be1"/><stop offset="0.3750" stop-color="#4267eb"/><stop offset="0.3865" stop-color="#4880e4"/><stop offset="0.3962" stop-color="#4f95d0"/><stop offset="0.4058" stop-color="#64a6b1"/><stop offset="0.4365" stop-color="#c1d34c"/><stop offset="0.4481" stop-color="#dcdc31"/><stop offset="0.4577" stop-color="#f1df26"/><stop offset="0.4673" stop-color="#f8e028"/><stop offset="0.4808" stop-color="#efdd27"/><stop offset="0.4923" stop-color="#dbd631"/><stop offset="0.5212" stop-color="#97c566"/><stop offset="0.5365" stop-color="#77c685"/><stop offset="0.5481" stop-color="#6bc49c"/><stop offset="0.5635" stop-color="#6bc0ad"/><stop offset="0.5923" stop-color="#69bdb7"/><stop offset="0.6692" stop-color="#6abeb6"/><stop offset="0.7981" stop-color="#71c0ae"/><stop offset="1.0000" stop-color="#6dbeb3"/></linearGradient><linearGradient id="g7" gradientUnits="userSpaceOnUse" x1="-60.0" y1="0" x2="70.0" y2="0"><stop offset="0.0000" stop-color="#3a2ba5"/><stop offset="0.2846" stop-color="#3b2ba7"/><stop offset="0.3115" stop-color="#3d2db1"/><stop offset="0.3385" stop-color="#4139c9"/><stop offset="0.3596" stop-color="#4051db"/><stop offset="0.3750" stop-color="#476bdd"/><stop offset="0.3846" stop-color="#4d7dd4"/><stop offset="0.3981" stop-color="#6493ba"/><stop offset="0.4192" stop-color="#90b887"/><stop offset="0.4365" stop-color="#b7d15a"/><stop offset="0.4519" stop-color="#d7d93b"/><stop offset="0.4654" stop-color="#ebd72b"/><stop offset="0.4731" stop-color="#ecd72a"/><stop offset="0.4846" stop-color="#dcd931"/><stop offset="0.5038" stop-color="#bbd24b"/><stop offset="0.5327" stop-color="#8cc47b"/><stop offset="0.5500" stop-color="#71c396"/><stop offset="0.5654" stop-color="#69c1aa"/><stop offset="0.5885" stop-color="#6abeb5"/><stop offset="0.6538" stop-color="#69bdb7"/><stop offset="0.8000" stop-color="#71c0af"/><stop offset="1.0000" stop-color="#6dbeb3"/></linearGradient><linearGradient id="g8" gradientUnits="userSpaceOnUse" x1="-60.0" y1="0" x2="70.0" y2="0"><stop offset="0.0000" stop-color="#3a2ba5"/><stop offset="0.2769" stop-color="#3b2ba7"/><stop offset="0.3058" stop-color="#3d2eb2"/><stop offset="0.3327" stop-color="#403ac6"/><stop offset="0.3558" stop-color="#4153d3"/><stop offset="0.3712" stop-color="#4869cf"/><stop offset="0.3846" stop-color="#5a7cc0"/><stop offset="0.4058" stop-color="#7d9ea1"/><stop offset="0.4308" stop-color="#a6c471"/><stop offset="0.4481" stop-color="#c5d051"/><stop offset="0.4596" stop-color="#d2d33e"/><stop offset="0.4731" stop-color="#d5d535"/><stop offset="0.4846" stop-color="#d1d53b"/><stop offset="0.5077" stop-color="#b4d255"/><stop offset="0.5442" stop-color="#84c288"/><stop offset="0.5635" stop-color="#6ec2a0"/><stop offset="0.5808" stop-color="#69c0af"/><stop offset="0.6135" stop-color="#69bdb7"/><stop offset="0.8212" stop-color="#71c0af"/><stop offset="1.0000" stop-color="#6dbeb3"/></linearGradient><linearGradient id="g9" gradientUnits="userSpaceOnUse" x1="-60.0" y1="0" x2="70.0" y2="0"><stop offset="0.0000" stop-color="#3a2ba5"/><stop offset="0.2673" stop-color="#3b2ba7"/><stop offset="0.3019" stop-color="#3e2fb5"/><stop offset="0.3288" stop-color="#3e3ec5"/><stop offset="0.3500" stop-color="#4354ca"/><stop offset="0.3635" stop-color="#4a63c3"/><stop offset="0.3904" stop-color="#6f85aa"/><stop offset="0.4231" stop-color="#9bb282"/><stop offset="0.4442" stop-color="#b3c464"/><stop offset="0.4635" stop-color="#bdcf4f"/><stop offset="0.4827" stop-color="#bfd248"/><stop offset="0.4981" stop-color="#bdd151"/><stop offset="0.5250" stop-color="#a2cc6d"/><stop offset="0.5615" stop-color="#7ac195"/><stop offset="0.5808" stop-color="#6bc1a8"/><stop offset="0.6038" stop-color="#69beb4"/><stop offset="0.6635" stop-color="#6abeb6"/><stop offset="0.8231" stop-color="#71c0af"/><stop offset="1.0000" stop-color="#6dbeb3"/></linearGradient><linearGradient id="g10" gradientUnits="userSpaceOnUse" x1="-60.0" y1="0" x2="70.0" y2="0"><stop offset="0.0000" stop-color="#3a2ba5"/><stop offset="0.2538" stop-color="#3b2ba7"/><stop offset="0.2942" stop-color="#3e31b6"/><stop offset="0.3250" stop-color="#3f44c3"/><stop offset="0.3442" stop-color="#4556be"/><stop offset="0.3769" stop-color="#6977a6"/><stop offset="0.4135" stop-color="#919f8a"/><stop offset="0.4327" stop-color="#a0af7a"/><stop offset="0.4673" stop-color="#a7c866"/><stop offset="0.4962" stop-color="#aece5e"/><stop offset="0.5135" stop-color="#adcd64"/><stop offset="0.5462" stop-color="#92c880"/><stop offset="0.5827" stop-color="#73c09f"/><stop offset="0.6038" stop-color="#69bfaf"/><stop offset="0.6365" stop-color="#6abeb6"/><stop offset="0.8442" stop-color="#70c0b0"/><stop offset="1.0000" stop-color="#6dbeb3"/></linearGradient><linearGradient id="g11" gradientUnits="userSpaceOnUse" x1="-60.0" y1="0" x2="70.0" y2="0"><stop offset="0.0000" stop-color="#3a2ba5"/><stop offset="0.2346" stop-color="#3b2ba7"/><stop offset="0.2788" stop-color="#3d33b6"/><stop offset="0.3096" stop-color="#3f44bc"/><stop offset="0.3288" stop-color="#4952b4"/><stop offset="0.3942" stop-color="#82888f"/><stop offset="0.4192" stop-color="#8d9b84"/><stop offset="0.4788" stop-color="#98c17a"/><stop offset="0.5135" stop-color="#9fca71"/><stop offset="0.5346" stop-color="#9eca75"/><stop offset="0.5750" stop-color="#86c490"/><stop offset="0.6173" stop-color="#6cc0ab"/><stop offset="0.6462" stop-color="#6bbeb4"/><stop offset="0.8769" stop-color="#6fbfb1"/><stop offset="1.0000" stop-color="#6dbeb3"/></linearGradient><filter id="bl" x="-5%" y="-5%" width="110%" height="110%"><feGaussianBlur stdDeviation="0.5"/></filter></defs>
<clipPath id="hc1"><rect x="345.0" y="36.0" width="189.5" height="76.5"/></clipPath>
<g clip-path="url(#hc1)" filter="url(#bl)">
<rect x="339.0" y="30.0" width="201.5" height="88.5" fill="#3a2ba5"/>
<rect transform="translate(417.29,70.30)" x="-300" width="700" height="7.90" fill="url(#g0)"/>
</g>
<clipPath id="hc2"><rect x="345.0" y="128.0" width="189.5" height="76.0"/></clipPath>
<g clip-path="url(#hc2)" filter="url(#bl)">
<rect x="339.0" y="122.0" width="201.5" height="88.0" fill="#3a2ba5"/>
<rect transform="translate(583.66,151)" x="-300" width="700" height="1.02" fill="url(#g9)"/>
<rect transform="translate(566.38,152)" x="-300" width="700" height="1.02" fill="url(#g9)"/>
<rect transform="translate(549.22,153)" x="-300" width="700" height="1.02" fill="url(#g9)"/>
<rect transform="translate(532.41,154)" x="-300" width="700" height="1.02" fill="url(#g8)"/>
<rect transform="translate(516.05,155)" x="-300" width="700" height="1.02" fill="url(#g9)"/>
<rect transform="translate(497.28,156)" x="-300" width="700" height="1.02" fill="url(#g9)"/>
<rect transform="translate(478.78,157)" x="-300" width="700" height="1.02" fill="url(#g8)"/>
<rect transform="translate(463.04,158)" x="-300" width="700" height="1.02" fill="url(#g9)"/>
<rect transform="translate(445.05,159)" x="-300" width="700" height="1.02" fill="url(#g9)"/>
<rect transform="translate(430.14,160)" x="-300" width="700" height="1.02" fill="url(#g7)"/>
<rect transform="translate(422.76,161)" x="-300" width="700" height="1.02" fill="url(#g4)"/>
<rect transform="translate(419.13,162)" x="-300" width="700" height="1.02" fill="url(#g2)"/>
<rect transform="translate(417.40,163)" x="-300" width="700" height="1.02" fill="url(#g1)"/>
<rect transform="translate(416.50,164)" x="-300" width="700" height="1.02" fill="url(#g1)"/>
<rect transform="translate(416.07,165)" x="-300" width="700" height="1.02" fill="url(#g0)"/>
<rect transform="translate(416.07,166)" x="-300" width="700" height="1.02" fill="url(#g0)"/>
<rect transform="translate(416.50,167)" x="-300" width="700" height="1.02" fill="url(#g1)"/>
<rect transform="translate(417.40,168)" x="-300" width="700" height="1.02" fill="url(#g1)"/>
<rect transform="translate(419.13,169)" x="-300" width="700" height="1.02" fill="url(#g2)"/>
<rect transform="translate(422.76,170)" x="-300" width="700" height="1.02" fill="url(#g4)"/>
<rect transform="translate(430.14,171)" x="-300" width="700" height="1.02" fill="url(#g7)"/>
<rect transform="translate(445.05,172)" x="-300" width="700" height="1.02" fill="url(#g9)"/>
<rect transform="translate(463.04,173)" x="-300" width="700" height="1.02" fill="url(#g9)"/>
<rect transform="translate(478.78,174)" x="-300" width="700" height="1.02" fill="url(#g8)"/>
<rect transform="translate(497.28,175)" x="-300" width="700" height="1.02" fill="url(#g9)"/>
<rect transform="translate(516.05,176)" x="-300" width="700" height="1.02" fill="url(#g9)"/>
<rect transform="translate(532.41,177)" x="-300" width="700" height="1.02" fill="url(#g8)"/>
<rect transform="translate(549.22,178)" x="-300" width="700" height="1.02" fill="url(#g9)"/>
<rect transform="translate(566.38,179)" x="-300" width="700" height="1.02" fill="url(#g9)"/>
<rect transform="translate(583.66,180)" x="-300" width="700" height="1.02" fill="url(#g9)"/>
</g>
<clipPath id="hc3"><rect x="345.0" y="216.5" width="189.5" height="76.5"/></clipPath>
<g clip-path="url(#hc3)" filter="url(#bl)">
<rect x="339.0" y="210.5" width="201.5" height="88.5" fill="#3a2ba5"/>
<rect transform="translate(590.86,220)" x="-300" width="700" height="1.02" fill="url(#g6)"/>
<rect transform="translate(582.15,221)" x="-300" width="700" height="1.02" fill="url(#g6)"/>
<rect transform="translate(573.64,222)" x="-300" width="700" height="1.02" fill="url(#g6)"/>
<rect transform="translate(565.31,223)" x="-300" width="700" height="1.02" fill="url(#g6)"/>
<rect transform="translate(557.18,224)" x="-300" width="700" height="1.02" fill="url(#g6)"/>
<rect transform="translate(549.25,225)" x="-300" width="700" height="1.02" fill="url(#g6)"/>
<rect transform="translate(541.51,226)" x="-300" width="700" height="1.02" fill="url(#g6)"/>
<rect transform="translate(533.97,227)" x="-300" width="700" height="1.02" fill="url(#g5)"/>
<rect transform="translate(526.63,228)" x="-300" width="700" height="1.02" fill="url(#g5)"/>
<rect transform="translate(519.50,229)" x="-300" width="700" height="1.02" fill="url(#g5)"/>
<rect transform="translate(512.57,230)" x="-300" width="700" height="1.02" fill="url(#g5)"/>
<rect transform="translate(505.85,231)" x="-300" width="700" height="1.02" fill="url(#g5)"/>
<rect transform="translate(499.33,232)" x="-300" width="700" height="1.02" fill="url(#g5)"/>
<rect transform="translate(493.03,233)" x="-300" width="700" height="1.02" fill="url(#g5)"/>
<rect transform="translate(486.95,234)" x="-300" width="700" height="1.02" fill="url(#g5)"/>
<rect transform="translate(481.08,235)" x="-300" width="700" height="1.02" fill="url(#g5)"/>
<rect transform="translate(475.43,236)" x="-300" width="700" height="1.02" fill="url(#g4)"/>
<rect transform="translate(470.00,237)" x="-300" width="700" height="1.02" fill="url(#g4)"/>
<rect transform="translate(464.80,238)" x="-300" width="700" height="1.02" fill="url(#g4)"/>
<rect transform="translate(459.83,239)" x="-300" width="700" height="1.02" fill="url(#g4)"/>
<rect transform="translate(455.10,240)" x="-300" width="700" height="1.02" fill="url(#g4)"/>
<rect transform="translate(450.60,241)" x="-300" width="700" height="1.02" fill="url(#g4)"/>
<rect transform="translate(446.35,242)" x="-300" width="700" height="1.02" fill="url(#g4)"/>
<rect transform="translate(442.35,243)" x="-300" width="700" height="1.02" fill="url(#g3)"/>
<rect transform="translate(438.60,244)" x="-300" width="700" height="1.02" fill="url(#g3)"/>
<rect transform="translate(435.11,245)" x="-300" width="700" height="1.02" fill="url(#g3)"/>
<rect transform="translate(431.88,246)" x="-300" width="700" height="1.02" fill="url(#g3)"/>
<rect transform="translate(428.94,247)" x="-300" width="700" height="1.02" fill="url(#g3)"/>
<rect transform="translate(426.27,248)" x="-300" width="700" height="1.02" fill="url(#g2)"/>
<rect transform="translate(423.91,249)" x="-300" width="700" height="1.02" fill="url(#g2)"/>
<rect transform="translate(421.85,250)" x="-300" width="700" height="1.02" fill="url(#g2)"/>
<rect transform="translate(420.13,251)" x="-300" width="700" height="1.02" fill="url(#g1)"/>
<rect transform="translate(418.75,252)" x="-300" width="700" height="1.02" fill="url(#g1)"/>
<rect transform="translate(417.77,253)" x="-300" width="700" height="1.02" fill="url(#g1)"/>
<rect transform="translate(417.27,254)" x="-300" width="700" height="1.02" fill="url(#g0)"/>
<rect transform="translate(417.45,255)" x="-300" width="700" height="1.02" fill="url(#g0)"/>
<rect transform="translate(418.21,256)" x="-300" width="700" height="1.02" fill="url(#g1)"/>
<rect transform="translate(419.39,257)" x="-300" width="700" height="1.02" fill="url(#g1)"/>
<rect transform="translate(420.95,258)" x="-300" width="700" height="1.02" fill="url(#g2)"/>
<rect transform="translate(422.84,259)" x="-300" width="700" height="1.02" fill="url(#g2)"/>
<rect transform="translate(425.05,260)" x="-300" width="700" height="1.02" fill="url(#g2)"/>
<rect transform="translate(427.57,261)" x="-300" width="700" height="1.02" fill="url(#g2)"/>
<rect transform="translate(430.37,262)" x="-300" width="700" height="1.02" fill="url(#g3)"/>
<rect transform="translate(433.46,263)" x="-300" width="700" height="1.02" fill="url(#g3)"/>
<rect transform="translate(436.82,264)" x="-300" width="700" height="1.02" fill="url(#g3)"/>
<rect transform="translate(440.44,265)" x="-300" width="700" height="1.02" fill="url(#g3)"/>
<rect transform="translate(444.32,266)" x="-300" width="700" height="1.02" fill="url(#g4)"/>
<rect transform="translate(448.45,267)" x="-300" width="700" height="1.02" fill="url(#g4)"/>
<rect transform="translate(452.82,268)" x="-300" width="700" height="1.02" fill="url(#g4)"/>
<rect transform="translate(457.44,269)" x="-300" width="700" height="1.02" fill="url(#g4)"/>
<rect transform="translate(462.29,270)" x="-300" width="700" height="1.02" fill="url(#g4)"/>
<rect transform="translate(467.37,271)" x="-300" width="700" height="1.02" fill="url(#g4)"/>
<rect transform="translate(472.69,272)" x="-300" width="700" height="1.02" fill="url(#g4)"/>
<rect transform="translate(478.22,273)" x="-300" width="700" height="1.02" fill="url(#g5)"/>
<rect transform="translate(483.98,274)" x="-300" width="700" height="1.02" fill="url(#g5)"/>
<rect transform="translate(489.96,275)" x="-300" width="700" height="1.02" fill="url(#g5)"/>
<rect transform="translate(496.16,276)" x="-300" width="700" height="1.02" fill="url(#g5)"/>
<rect transform="translate(502.56,277)" x="-300" width="700" height="1.02" fill="url(#g5)"/>
<rect transform="translate(509.18,278)" x="-300" width="700" height="1.02" fill="url(#g5)"/>
<rect transform="translate(516.01,279)" x="-300" width="700" height="1.02" fill="url(#g5)"/>
<rect transform="translate(523.04,280)" x="-300" width="700" height="1.02" fill="url(#g5)"/>
<rect transform="translate(530.28,281)" x="-300" width="700" height="1.02" fill="url(#g5)"/>
<rect transform="translate(537.71,282)" x="-300" width="700" height="1.02" fill="url(#g6)"/>
<rect transform="translate(545.35,283)" x="-300" width="700" height="1.02" fill="url(#g6)"/>
<rect transform="translate(553.19,284)" x="-300" width="700" height="1.02" fill="url(#g6)"/>
<rect transform="translate(561.22,285)" x="-300" width="700" height="1.02" fill="url(#g6)"/>
<rect transform="translate(569.45,286)" x="-300" width="700" height="1.02" fill="url(#g6)"/>
<rect transform="translate(577.87,287)" x="-300" width="700" height="1.02" fill="url(#g6)"/>
<rect transform="translate(586.48,288)" x="-300" width="700" height="1.02" fill="url(#g6)"/>
<rect transform="translate(595.28,289)" x="-300" width="700" height="1.02" fill="url(#g6)"/>
</g>
<text x="342.8" y="38.70" text-anchor="end" font-family="Liberation Sans, Arial, sans-serif" font-size="7.6" fill="#1e1e1e" stroke="#1e1e1e" stroke-width="0.12">5</text>
<text x="342.8" y="76.95" text-anchor="end" font-family="Liberation Sans, Arial, sans-serif" font-size="7.6" fill="#1e1e1e" stroke="#1e1e1e" stroke-width="0.12">0</text>
<text x="342.8" y="115.20" text-anchor="end" font-family="Liberation Sans, Arial, sans-serif" font-size="7.6" fill="#1e1e1e" stroke="#1e1e1e" stroke-width="0.12">-5</text>
<text x="345.00" y="121.95" text-anchor="middle" font-family="Liberation Sans, Arial, sans-serif" font-size="7.6" fill="#1e1e1e" stroke="#1e1e1e" stroke-width="0.12">0</text>
<text x="392.38" y="121.95" text-anchor="middle" font-family="Liberation Sans, Arial, sans-serif" font-size="7.6" fill="#1e1e1e" stroke="#1e1e1e" stroke-width="0.12">100</text>
<text x="439.75" y="121.95" text-anchor="middle" font-family="Liberation Sans, Arial, sans-serif" font-size="7.6" fill="#1e1e1e" stroke="#1e1e1e" stroke-width="0.12">200</text>
<text x="487.12" y="121.95" text-anchor="middle" font-family="Liberation Sans, Arial, sans-serif" font-size="7.6" fill="#1e1e1e" stroke="#1e1e1e" stroke-width="0.12">300</text>
<text x="534.50" y="121.95" text-anchor="middle" font-family="Liberation Sans, Arial, sans-serif" font-size="7.6" fill="#1e1e1e" stroke="#1e1e1e" stroke-width="0.12">400</text>
<text transform="translate(334,74.25) rotate(-90)" text-anchor="middle" font-family="Liberation Sans, Arial, sans-serif" font-size="8.2" fill="#1e1e1e">X,[-]</text>
<text x="342.8" y="130.70" text-anchor="end" font-family="Liberation Sans, Arial, sans-serif" font-size="7.6" fill="#1e1e1e" stroke="#1e1e1e" stroke-width="0.12">5</text>
<text x="342.8" y="168.70" text-anchor="end" font-family="Liberation Sans, Arial, sans-serif" font-size="7.6" fill="#1e1e1e" stroke="#1e1e1e" stroke-width="0.12">0</text>
<text x="342.8" y="206.70" text-anchor="end" font-family="Liberation Sans, Arial, sans-serif" font-size="7.6" fill="#1e1e1e" stroke="#1e1e1e" stroke-width="0.12">-5</text>
<text x="345.00" y="213.45" text-anchor="middle" font-family="Liberation Sans, Arial, sans-serif" font-size="7.6" fill="#1e1e1e" stroke="#1e1e1e" stroke-width="0.12">0</text>
<text x="392.38" y="213.45" text-anchor="middle" font-family="Liberation Sans, Arial, sans-serif" font-size="7.6" fill="#1e1e1e" stroke="#1e1e1e" stroke-width="0.12">100</text>
<text x="439.75" y="213.45" text-anchor="middle" font-family="Liberation Sans, Arial, sans-serif" font-size="7.6" fill="#1e1e1e" stroke="#1e1e1e" stroke-width="0.12">200</text>
<text x="487.12" y="213.45" text-anchor="middle" font-family="Liberation Sans, Arial, sans-serif" font-size="7.6" fill="#1e1e1e" stroke="#1e1e1e" stroke-width="0.12">300</text>
<text x="534.50" y="213.45" text-anchor="middle" font-family="Liberation Sans, Arial, sans-serif" font-size="7.6" fill="#1e1e1e" stroke="#1e1e1e" stroke-width="0.12">400</text>
<text transform="translate(334,166.00) rotate(-90)" text-anchor="middle" font-family="Liberation Sans, Arial, sans-serif" font-size="8.2" fill="#1e1e1e">X,[-]</text>
<text x="342.8" y="219.20" text-anchor="end" font-family="Liberation Sans, Arial, sans-serif" font-size="7.6" fill="#1e1e1e" stroke="#1e1e1e" stroke-width="0.12">5</text>
<text x="342.8" y="257.45" text-anchor="end" font-family="Liberation Sans, Arial, sans-serif" font-size="7.6" fill="#1e1e1e" stroke="#1e1e1e" stroke-width="0.12">0</text>
<text x="342.8" y="295.70" text-anchor="end" font-family="Liberation Sans, Arial, sans-serif" font-size="7.6" fill="#1e1e1e" stroke="#1e1e1e" stroke-width="0.12">-5</text>
<text x="345.00" y="302.45" text-anchor="middle" font-family="Liberation Sans, Arial, sans-serif" font-size="7.6" fill="#1e1e1e" stroke="#1e1e1e" stroke-width="0.12">0</text>
<text x="392.38" y="302.45" text-anchor="middle" font-family="Liberation Sans, Arial, sans-serif" font-size="7.6" fill="#1e1e1e" stroke="#1e1e1e" stroke-width="0.12">100</text>
<text x="439.75" y="302.45" text-anchor="middle" font-family="Liberation Sans, Arial, sans-serif" font-size="7.6" fill="#1e1e1e" stroke="#1e1e1e" stroke-width="0.12">200</text>
<text x="487.12" y="302.45" text-anchor="middle" font-family="Liberation Sans, Arial, sans-serif" font-size="7.6" fill="#1e1e1e" stroke="#1e1e1e" stroke-width="0.12">300</text>
<text x="534.50" y="302.45" text-anchor="middle" font-family="Liberation Sans, Arial, sans-serif" font-size="7.6" fill="#1e1e1e" stroke="#1e1e1e" stroke-width="0.12">400</text>
<text transform="translate(334,254.75) rotate(-90)" text-anchor="middle" font-family="Liberation Sans, Arial, sans-serif" font-size="8.2" fill="#1e1e1e">X,[-]</text>
<text x="439.8" y="313.4" text-anchor="middle" font-family="Liberation Sans, Arial, sans-serif" font-size="8.2" fill="#1e1e1e">Time, [days]</text>
</svg></body></html>
